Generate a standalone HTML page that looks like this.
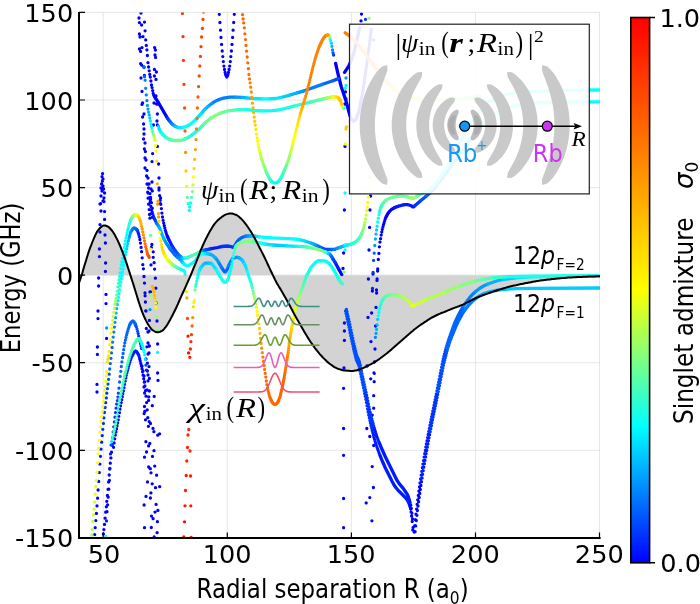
<!DOCTYPE html>
<html><head><meta charset="utf-8"><title>Potential energy curves</title>
<style>html,body{margin:0;padding:0;background:#fff}svg{display:block}</style></head>
<body>
<svg width="700" height="604" viewBox="0 0 700 604">
<defs>
<linearGradient id="cb" x1="0" y1="1" x2="0" y2="0"><stop offset="0" stop-color="#0000ff"/><stop offset="0.25" stop-color="#00ffff"/><stop offset="0.5" stop-color="#ffff00"/><stop offset="0.75" stop-color="#ff8000"/><stop offset="1" stop-color="#ff0000"/></linearGradient>
<clipPath id="pc"><rect x="79.0" y="12.5" width="521.0" height="525.5"/></clipPath>
</defs>
<rect width="700" height="604" fill="#fff"/>
<path d="M103.2 12.5V538.0M227.3 12.5V538.0M351.4 12.5V538.0M475.5 12.5V538.0M599.5 12.5V538.0M79.0 12.4H600.0M79.0 100.0H600.0M79.0 187.6H600.0M79.0 275.1H600.0M79.0 362.7H600.0M79.0 450.3H600.0" stroke="#dcdcdc" stroke-width="0.7" fill="none"/>
<path d="M79.0 283.0L80.0 279.9L81.0 277.2L82.0 274.3L83.0 270.5L84.0 267.0L85.0 263.8L86.0 260.6L87.0 257.3L88.0 254.0L89.0 251.0L90.0 248.2L91.0 245.6L92.0 243.0L93.0 240.5L94.0 238.1L95.0 235.9L96.0 233.7L97.0 231.8L98.0 230.4L99.0 229.1L100.0 228.0L101.0 227.1L102.0 226.3L103.0 225.6L104.0 225.4L105.0 225.5L106.0 225.8L107.0 226.2L108.0 226.7L109.0 227.4L110.0 228.3L111.0 229.5L112.0 230.7L113.0 232.0L114.0 233.6L115.0 235.3L116.0 237.2L117.0 239.1L118.0 241.1L119.0 243.3L120.0 245.6L121.0 248.1L122.0 250.6L123.0 253.2L124.0 255.9L125.0 258.7L126.0 261.6L127.0 264.6L128.0 267.7L129.0 270.8L130.0 273.9L131.0 277.1L132.0 280.2L133.0 283.3L134.0 286.4L135.0 289.7L136.0 293.0L137.0 296.3L138.0 299.6L139.0 302.7L140.0 305.7L141.0 308.6L142.0 311.4L143.0 314.0L144.0 316.3L145.0 318.5L146.0 320.6L147.0 322.5L148.0 324.2L149.0 325.7L150.0 327.2L151.0 328.6L152.0 329.7L153.0 330.4L154.0 331.0L155.0 331.6L156.0 332.0L157.0 332.2L158.0 332.2L159.0 332.0L160.0 331.7L161.0 331.3L162.0 330.8L163.0 330.2L164.0 329.2L165.0 327.9L166.0 326.6L167.0 325.2L168.0 323.6L169.0 321.8L170.0 320.0L171.0 318.1L172.0 316.2L173.0 314.3L174.0 312.3L175.0 310.3L176.0 308.2L177.0 306.0L178.0 303.8L179.0 301.5L180.0 299.2L181.0 296.9L182.0 294.7L183.0 292.5L184.0 290.3L185.0 288.1L186.0 285.8L187.0 283.6L188.0 281.4L189.0 279.1L190.0 276.8L191.0 274.5L192.0 272.1L193.0 269.7L194.0 267.2L195.0 264.8L196.0 262.3L197.0 259.9L198.0 257.3L199.0 254.8L200.0 252.2L201.0 249.7L202.0 247.3L203.0 245.0L204.0 242.8L205.0 240.7L206.0 238.6L207.0 236.7L208.0 234.8L209.0 232.9L210.0 231.1L211.0 229.4L212.0 227.7L213.0 226.1L214.0 224.6L215.0 223.4L216.0 222.2L217.0 221.1L218.0 220.1L219.0 219.2L220.0 218.3L221.0 217.6L222.0 216.8L223.0 216.1L224.0 215.4L225.0 214.9L226.0 214.4L227.0 214.1L228.0 213.9L229.0 213.6L230.0 213.5L231.0 213.5L232.0 213.6L233.0 213.8L234.0 214.1L235.0 214.5L236.0 214.8L237.0 215.3L238.0 216.0L239.0 216.8L240.0 217.7L241.0 218.6L242.0 219.6L243.0 220.6L244.0 221.8L245.0 223.1L246.0 224.4L247.0 225.8L248.0 227.2L249.0 228.7L250.0 230.2L251.0 231.8L252.0 233.5L253.0 235.3L254.0 237.0L255.0 238.8L256.0 240.7L257.0 242.6L258.0 244.6L259.0 246.5L260.0 248.5L261.0 250.4L262.0 252.4L263.0 254.3L264.0 256.3L265.0 258.4L266.0 260.4L267.0 262.6L268.0 264.7L269.0 266.9L270.0 269.1L271.0 271.3L272.0 273.3L273.0 275.4L274.0 277.5L275.0 279.6L276.0 281.5L277.0 283.4L278.0 285.1L279.0 286.8L280.0 288.4L281.0 290.0L282.0 291.7L283.0 293.4L284.0 295.2L285.0 297.0L286.0 298.8L287.0 300.6L288.0 302.4L289.0 304.3L290.0 306.1L291.0 307.9L292.0 309.8L293.0 311.7L294.0 313.6L295.0 315.4L296.0 317.3L297.0 319.1L298.0 320.8L299.0 322.6L300.0 324.3L301.0 326.1L302.0 327.8L303.0 329.5L304.0 331.2L305.0 332.9L306.0 334.6L307.0 336.2L308.0 337.9L309.0 339.5L310.0 341.0L311.0 342.5L312.0 343.9L313.0 345.4L314.0 346.7L315.0 348.1L316.0 349.4L317.0 350.7L318.0 351.9L319.0 353.1L320.0 354.3L321.0 355.4L322.0 356.5L323.0 357.6L324.0 358.6L325.0 359.6L326.0 360.5L327.0 361.5L328.0 362.4L329.0 363.2L330.0 364.0L331.0 364.7L332.0 365.4L333.0 366.1L334.0 366.8L335.0 367.4L336.0 367.9L337.0 368.4L338.0 368.8L339.0 369.1L340.0 369.4L341.0 369.7L342.0 370.0L343.0 370.2L344.0 370.4L345.0 370.5L346.0 370.6L347.0 370.7L348.0 370.7L349.0 370.8L350.0 370.9L351.0 370.9L352.0 370.9L353.0 370.9L354.0 370.8L355.0 370.6L356.0 370.4L357.0 370.2L358.0 369.9L359.0 369.7L360.0 369.3L361.0 368.9L362.0 368.5L363.0 368.1L364.0 367.6L365.0 367.2L366.0 366.7L367.0 366.2L368.0 365.8L369.0 365.2L370.0 364.7L371.0 364.2L372.0 363.6L373.0 363.1L374.0 362.5L375.0 361.9L376.0 361.2L377.0 360.6L378.0 359.9L379.0 359.2L380.0 358.5L381.0 357.7L382.0 357.0L383.0 356.3L384.0 355.5L385.0 354.7L386.0 354.0L387.0 353.2L388.0 352.4L389.0 351.6L390.0 350.7L391.0 349.9L392.0 349.0L393.0 348.1L394.0 347.2L395.0 346.3L396.0 345.4L397.0 344.5L398.0 343.7L399.0 342.8L400.0 341.9L401.0 341.0L402.0 340.2L403.0 339.3L404.0 338.4L405.0 337.6L406.0 336.7L407.0 335.8L408.0 334.9L409.0 334.1L410.0 333.2L411.0 332.3L412.0 331.5L413.0 330.7L414.0 329.8L415.0 329.0L416.0 328.2L417.0 327.5L418.0 326.7L419.0 326.0L420.0 325.3L421.0 324.6L422.0 323.9L423.0 323.3L424.0 322.6L425.0 321.9L426.0 321.3L427.0 320.6L428.0 319.9L429.0 319.3L430.0 318.7L431.0 318.1L432.0 317.5L433.0 317.0L434.0 316.5L435.0 316.0L436.0 315.5L437.0 315.0L438.0 314.5L439.0 314.1L440.0 313.7L441.0 313.2L442.0 312.8L443.0 312.5L444.0 312.1L445.0 311.7L446.0 311.3L447.0 310.8L448.0 310.4L449.0 310.0L450.0 309.6L451.0 309.2L452.0 308.8L453.0 308.4L454.0 308.0L455.0 307.6L456.0 307.2L457.0 306.9L458.0 306.5L459.0 306.2L460.0 305.8L461.0 305.4L462.0 305.0L463.0 304.6L464.0 304.1L465.0 303.6L466.0 303.1L467.0 302.6L468.0 302.0L469.0 301.5L470.0 301.0L471.0 300.4L472.0 299.9L473.0 299.4L474.0 298.9L475.0 298.5L476.0 298.0L477.0 297.6L478.0 297.2L479.0 296.8L480.0 296.4L481.0 296.0L482.0 295.6L483.0 295.2L484.0 294.8L485.0 294.5L486.0 294.1L487.0 293.7L488.0 293.4L489.0 293.0L490.0 292.7L491.0 292.3L492.0 292.0L493.0 291.6L494.0 291.3L495.0 291.0L496.0 290.7L497.0 290.3L498.0 290.0L499.0 289.7L500.0 289.4L501.0 289.1L502.0 288.8L503.0 288.5L504.0 288.2L505.0 287.9L506.0 287.6L507.0 287.3L508.0 287.1L509.0 286.8L510.0 286.5L511.0 286.3L512.0 286.1L513.0 285.8L514.0 285.6L515.0 285.4L516.0 285.2L517.0 284.9L518.0 284.7L519.0 284.5L520.0 284.3L521.0 284.1L522.0 283.9L523.0 283.7L524.0 283.5L525.0 283.3L526.0 283.1L527.0 282.9L528.0 282.7L529.0 282.5L530.0 282.4L531.0 282.2L532.0 282.0L533.0 281.8L534.0 281.6L535.0 281.5L536.0 281.3L537.0 281.1L538.0 280.9L539.0 280.8L540.0 280.6L541.0 280.5L542.0 280.3L543.0 280.2L544.0 280.1L545.0 279.9L546.0 279.8L547.0 279.7L548.0 279.6L549.0 279.5L550.0 279.4L551.0 279.2L552.0 279.1L553.0 279.0L554.0 278.9L555.0 278.8L556.0 278.7L557.0 278.6L558.0 278.5L559.0 278.4L560.0 278.3L561.0 278.2L562.0 278.1L563.0 278.0L564.0 277.9L565.0 277.9L566.0 277.8L567.0 277.7L568.0 277.6L569.0 277.6L570.0 277.5L571.0 277.4L572.0 277.4L573.0 277.3L574.0 277.3L575.0 277.2L576.0 277.2L577.0 277.1L578.0 277.1L579.0 277.0L580.0 277.0L581.0 276.9L582.0 276.9L583.0 276.8L584.0 276.8L585.0 276.7L586.0 276.7L587.0 276.7L588.0 276.6L589.0 276.6L590.0 276.5L591.0 276.5L592.0 276.5L593.0 276.4L594.0 276.4L595.0 276.4L596.0 276.3L597.0 276.3L598.0 276.3L599.0 276.2L600.0 276.2L600 275.2L79 275.2Z" fill="#d3d3d3" stroke="none"/>
<g clip-path="url(#pc)" fill="none" stroke-linecap="round" stroke-linejoin="round" stroke-width="3.3">
<path stroke="#0000ff" d="M144.5 22.1h0M145.1 30.8h0M145.7 39.9h0M146.3 45.4h0M146.9 49.9h0M147.4 55.5h0M148.0 62.7h0M148.6 67.0h0M149.2 70.8h0M149.8 74.4h0M150.3 77.1h0M150.9 81.0h0M151.5 85.0h0M152.1 87.6h0M152.7 90.6h0M153.2 93.5h0M153.8 95.1L155.0 97.5L158.5 102.7L166.3 116.3M219.3 14.3h0M234.3 14.3h0M219.9 22.5h0M233.7 22.5h0M220.5 30.2h0M233.1 30.2h0M221.0 37.4h0M232.6 37.4h0M221.6 44.4h0M232.0 44.4h0M222.2 51.0h0M231.4 51.0h0M222.8 56.6h0M230.8 56.6h0M223.3 61.6h0M230.3 61.6h0M223.9 66.1h0M229.7 66.1h0M224.5 69.5h0M229.1 69.5h0M225.1 72.3h0M228.5 72.3h0M225.6 74.5h0M228.0 74.5h0M226.2 76.0h0M227.4 76.0h0M226.8 77.0h0M226.8 77.0h0M335.6 63.4L338.0 73.8L341.2 86.5L346.1 101.3L349.9 115.5L351.0 118.5L351.9 119.9L353.3 120.9L353.9 121.0L354.5 120.8L355.9 119.1L356.8 117.4L358.3 113.1L359.1 109.8L362.0 95.8M362.3 94.2h0M362.6 92.5h0M362.9 90.8h0M363.2 89.0h0M363.5 87.2h0M363.8 85.4h0M364.1 83.5h0M364.4 81.6h0M364.6 79.6h0M364.9 77.6h0M365.2 75.6h0M365.5 73.5h0M365.8 71.4h0M366.1 69.3h0M366.4 67.1h0M366.7 65.0h0M367.0 62.8h0M367.3 60.6h0M367.5 58.4h0M367.8 56.2h0M368.1 54.0h0M368.4 51.9h0M368.7 49.7h0M369.0 47.6h0M369.3 45.4h0M369.6 43.2h0M369.9 41.0h0M370.2 38.7h0M370.4 36.4h0M370.7 34.1h0M371.0 31.7h0M371.3 29.3h0M344.6 72.3L349.0 65.7L350.7 61.7L352.5 56.9L354.2 51.3L355.7 45.7L359.7 27.4M345.5 91.8h0M159.0 190.0h0M159.6 195.6h0M160.2 200.3h0M160.8 204.3h0M161.4 208.6h0M161.9 213.1h0M162.5 217.0h0M163.1 220.3h0M163.7 223.1h0M164.3 225.7h0M164.8 228.1h0M165.4 230.4h0M166.0 232.4h0M166.6 234.3h0M167.2 235.8L168.6 239.2M373.1 63.1h0M373.6 39.8h0M157.0 104.0h0M157.4 114.0h0M157.4 125.0h0M157.4 146.4h0M158.6 164.0h0M159.0 178.0h0M150.3 201.0h0M150.9 206.5h0M151.5 209.7h0M152.1 212.0h0M338.8 269.2L341.7 274.5M343.0 268.4h0M343.6 253.0h0M344.4 210.0h0M376.5 290.0h0M377.1 278.9h0M377.7 269.0h0M378.3 259.4h0M378.9 253.4h0M379.4 246.8h0M380.0 242.1h0M380.6 238.7h0M381.2 235.1h0M381.8 232.0h0M382.3 229.3h0M382.9 226.9h0M383.5 224.7h0M384.1 222.7h0M384.7 220.8h0M385.2 219.0h0M385.8 217.4L387.6 214.0L389.3 211.6L391.6 209.4L394.2 207.8M410.8 505.2h0M411.3 508.5h0M411.9 513.1h0M412.5 518.9h0M413.1 527.4h0M409.3 504.5h0M409.9 506.4h0M410.5 508.8h0M411.1 511.9h0M411.6 516.0h0M412.2 521.5h0M412.8 529.9h0M414.2 532.0h0M414.8 525.6h0M415.4 519.7h0M416.0 514.2h0M416.6 509.1h0M417.1 504.3h0M417.7 499.8h0M418.3 495.4h0M418.9 491.1h0M419.5 487.0h0M415.1 531.7h0M415.7 525.9h0M416.3 520.5h0M416.9 515.3h0M417.4 510.5h0M418.0 506.0h0M418.6 501.7h0M419.2 497.5h0M419.8 493.4h0M420.3 489.4h0M420.9 485.5h0M94.7 534.6h0M95.2 527.7h0M95.8 520.6h0M96.4 513.4h0M97.0 505.9h0M97.6 498.2h0M98.1 490.0h0M98.7 481.4h0M99.3 472.6h0M139.9 239.5h0M140.5 243.1h0M141.1 247.4h0M141.6 251.7h0M142.2 257.8h0M142.8 264.7h0M143.4 268.8h0M144.0 276.5h0M144.5 283.1h0M145.1 295.8h0M145.7 310.8h0M146.3 328.5h0M146.9 346.8h0M147.4 363.2h0M148.0 380.9h0M148.6 400.4h0M149.2 421.6h0M149.8 443.4h0M150.3 468.7h0M150.9 492.9h0M151.5 516.1h0M103.4 534.0h0M103.9 529.6h0M104.5 524.4h0M105.1 518.2h0M105.7 512.2h0M106.3 506.8h0M106.8 501.3h0M107.4 495.5h0M108.0 489.3h0M108.6 482.0h0M109.2 475.0h0M109.7 469.0h0M110.3 463.2h0M110.9 457.9h0M111.5 452.2h0M112.1 445.0h0M107.0 511.7h0M107.6 504.8h0M108.2 497.2h0M108.8 489.2h0M109.4 480.4h0M113.6 447.3h0M114.1 442.9h0M114.7 438.8h0M115.3 435.1h0M115.9 431.9h0M116.5 428.9h0M117.0 426.0h0M117.6 423.0h0M118.2 419.8h0M118.8 416.3h0M119.4 412.7h0M119.9 409.2h0M120.5 405.8h0M121.1 402.7h0M121.7 399.7h0M139.7 358.7h0M140.2 361.0h0M140.8 363.4h0M141.4 366.0h0M142.0 368.8h0M142.6 371.8h0M143.1 375.2h0M143.7 378.8h0M144.3 382.2h0M144.9 386.0h0M145.5 390.6h0M146.0 396.2h0M146.6 402.6h0M147.2 409.8h0M147.8 417.7h0M148.4 426.3h0M141.0 13.0h0M139.0 18.0h0M139.4 22.6h0M141.6 25.0h0M139.4 34.0h0M140.0 37.0h0M143.0 36.6h0M142.0 47.6h0M139.4 49.0h0M140.6 51.4h0M140.6 63.6h0M141.6 65.0h0M144.0 67.0h0M141.0 78.0h0M144.4 75.4h0M142.0 91.4h0M142.6 103.0h0M142.0 104.4h0M154.6 47.6h0M155.4 50.0h0M155.0 55.0h0M155.6 57.4h0M154.4 69.4h0M156.4 72.0h0M154.4 76.0h0M156.0 79.4h0M156.0 96.0h0M154.0 103.0h0M156.6 104.0h0M142.6 103.0h0M144.0 114.0h0M142.6 117.0h0M143.6 124.0h0M144.0 129.0h0M144.0 134.0h0M143.6 139.0h0M145.0 143.0h0M144.4 149.0h0M145.4 151.6h0M145.0 158.0h0M146.0 160.0h0M145.0 168.0h0M147.0 170.4h0M146.6 176.0h0M148.0 178.0h0M147.0 184.0h0M149.0 184.0h0M152.0 182.0h0M148.6 188.0h0M151.0 189.0h0M148.0 193.0h0M150.0 193.6h0M149.0 198.0h0M150.6 199.0h0M150.0 203.0h0M157.0 104.0h0M157.4 114.0h0M157.0 121.0h0M153.4 125.0h0M157.4 125.0h0M157.4 146.4h0M152.6 153.6h0M152.0 161.6h0M158.6 164.0h0M159.0 178.0h0M159.0 188.0h0M160.6 198.0h0M160.4 203.6h0M102.6 173.6h0M102.0 176.6h0M103.0 179.0h0M102.4 181.0h0M101.6 184.0h0M103.0 186.0h0M101.0 188.0h0M103.6 189.0h0M102.0 191.0h0M104.6 193.0h0M101.0 196.0h0M104.0 198.0h0M103.0 201.0h0M100.6 203.6h0M101.0 196.0h0M104.0 201.6h0M100.0 204.0h0M101.0 211.0h0M104.6 211.6h0M104.6 219.4h0M100.0 224.6h0M100.0 232.0h0M105.0 235.0h0M105.4 243.0h0M99.4 249.0h0M99.4 256.6h0M105.6 263.0h0M105.4 271.4h0M98.6 278.0h0M98.6 286.0h0M106.0 294.4h0M98.0 311.0h0M98.0 318.6h0M97.4 347.0h0M97.4 354.4h0M97.0 384.4h0M97.0 392.0h0M106.0 294.4h0M106.0 303.6h0M106.6 338.4h0M148.0 343.0h0M149.4 346.0h0M148.0 354.0h0M149.0 353.0h0M146.0 359.0h0M142.0 366.0h0M149.0 366.6h0M143.0 371.0h0M147.4 371.0h0M144.0 376.0h0M148.0 375.0h0M149.4 378.4h0M144.6 382.0h0M144.0 387.0h0M147.0 390.0h0M149.4 391.0h0M144.6 393.0h0M145.0 293.0h0M150.0 292.0h0M145.4 302.0h0M156.0 303.0h0M146.0 311.0h0M149.4 320.4h0M157.0 321.0h0M148.0 332.0h0M149.0 331.0h0M157.6 344.0h0M157.6 373.0h0M158.0 380.4h0M343.6 388.3h0M343.6 428.5h0M343.6 455.3h0M343.6 498.5h0M343.6 527.7h0M374.2 373.4h0M370.7 378.8h0M374.2 381.7h0M373.7 395.7h0M373.7 408.2h0M372.2 415.1h0M366.8 428.5h0M373.4 429.1h0M369.8 436.5h0M373.7 445.5h0M372.2 466.6h0M373.4 487.5h0M369.8 497.6h0M366.2 502.9h0M371.9 520.8h0M344.4 323.0h0M344.4 331.0h0M344.4 340.4h0M344.0 368.0h0M377.6 271.0h0M373.0 274.0h0M368.4 279.0h0M377.0 280.4h0M372.4 291.0h0M376.6 293.0h0M376.0 307.4h0M371.6 313.0h0M368.0 317.4h0M375.6 326.0h0M371.0 341.6h0M375.0 349.0h0M374.4 362.0h0M367.0 366.0h0M374.0 373.0h0M344.4 210.0h0M343.6 253.0h0M343.0 268.4h0M370.6 196.0h0M370.0 210.0h0M369.6 227.4h0M369.0 250.0h0M368.4 279.0h0M361.5 14.0h0M361.0 20.9h0M345.0 146.2h0M345.0 104.0h0M346.0 99.0h0M345.0 146.4h0M148.8 396.9h0M154.2 396.4h0M152.3 405.7h0M144.5 406.5h0M144.1 413.6h0M144.7 411.5h0M150.5 423.5h0M145.5 419.8h0M153.9 431.7h0M153.0 428.4h0M159.6 433.8h0M157.7 435.2h0M145.9 441.7h0M148.6 445.9h0M146.5 452.0h0M154.0 450.7h0M152.5 456.4h0M144.5 457.2h0M154.7 466.1h0M148.7 467.0h0M151.0 472.8h0M156.6 475.2h0M147.5 481.9h0M152.2 483.8h0M155.5 487.7h0M159.7 486.7h0M150.4 498.0h0M146.0 496.4h0M144.1 505.0h0M156.1 504.4h0M157.9 510.4h0M155.0 512.1h0M153.1 518.7h0M157.4 521.7h0M151.3 527.5h0M144.5 527.7h0M154.2 537.0h0M157.1 532.7h0M147.7 192.2h0M152.3 190.9h0M150.5 197.3h0M148.1 198.2h0M148.6 204.2h0M151.4 202.7h0M152.3 208.2h0M149.2 209.6h0M151.7 213.3h0M149.5 214.5h0M152.3 217.3h0M149.9 218.2h0M151.9 244.5h0M151.4 247.3h0M153.2 251.8h0M153.2 257.3h0M154.1 262.7h0M151.0 264.9h0M154.6 269.1h0M155.4 278.2h0M155.9 288.2h0M150.5 291.8h0"/>
<path stroke="#001aff" d="M166.6 116.7L167.4 118.1M168.9 239.8L172.1 245.9M210.1 248.9L217.6 247.5L221.4 246.6M372.5 84.6h0M152.7 214.0h0M153.2 215.7h0M153.8 217.3h0M335.4 262.9L338.5 268.7M372.5 288.5h0M394.5 207.6L398.6 206.1L402.6 205.0L405.0 204.6L407.3 204.7L409.6 205.2L411.3 205.8L412.5 206.8L413.1 207.0L413.7 206.8L414.5 206.0M374.2 427.7h0M374.8 429.7h0M375.4 431.7h0M376.0 433.6h0M376.5 435.4h0M377.1 437.2h0M377.7 438.8h0M378.3 440.4h0M378.9 441.9L381.2 447.5L385.2 456.5L396.8 480.0L399.2 483.6L403.2 488.4L405.5 491.7L407.3 494.4L408.4 496.9M409.0 498.4h0M409.6 500.2h0M410.2 502.5h0M372.2 430.4h0M372.8 432.8h0M373.4 435.1h0M373.9 437.3h0M374.5 439.3h0M375.1 441.3h0M375.7 443.2h0M376.2 445.0h0M376.8 446.7h0M377.4 448.4h0M378.0 450.0h0M378.6 451.6h0M379.1 453.1h0M379.7 454.7L382.6 461.8L385.5 468.2L391.9 481.0L394.2 485.2L396.0 487.8L397.7 489.8L405.8 498.0L407.6 500.4L408.7 502.9M420.0 482.9h0M420.6 479.0h0M421.2 475.1h0M421.8 471.4h0M422.4 467.7h0M422.9 464.1h0M423.5 460.6h0M424.1 457.1h0M424.7 453.7h0M425.3 450.4h0M425.8 447.1h0M426.4 443.9h0M427.0 440.7h0M427.6 437.6h0M428.2 434.5h0M421.5 481.7h0M422.1 478.0h0M422.6 474.3h0M423.2 470.7h0M423.8 467.2h0M424.4 463.7h0M425.0 460.3h0M425.6 456.9h0M426.1 453.6h0M426.7 450.4h0M427.3 447.2h0M427.9 444.0h0M428.4 440.8h0M429.0 437.8h0M429.6 434.7h0M99.9 464.1h0M100.5 456.3h0M101.0 449.1h0M101.6 442.2h0M102.2 435.6h0M138.2 232.7h0M138.7 234.4h0M139.3 236.7h0M112.6 437.6h0M113.2 431.9h0M113.8 426.8h0M140.5 343.5h0M141.1 346.0h0M141.6 348.4h0M106.5 520.9h0M109.9 468.4h0M110.5 453.9h0M146.5 370.1h0M122.3 396.7h0M122.8 393.8h0M123.4 390.9h0M124.0 387.7h0M124.6 384.3h0M125.2 381.1h0M125.8 378.1h0M126.3 375.2h0M126.9 372.7h0M127.5 370.4h0M128.1 368.2h0M128.6 366.2h0M129.2 364.2h0M129.8 362.2h0M130.4 360.3h0M131.0 358.5h0M131.5 357.0L133.9 352.5L135.0 351.2L135.6 351.0L136.2 351.2L136.8 351.8L138.5 354.8M139.1 356.4h0"/>
<path stroke="#0033ff" d="M167.7 118.6L168.6 119.8M333.6 55.0h0M172.4 246.4L175.0 250.4M206.0 249.8L209.8 249.0M221.7 246.5L227.5 246.0L229.8 246.3L233.3 247.4L233.9 247.3L234.1 246.8M324.3 249.1L325.5 249.4L327.5 249.4M371.9 106.5h0M154.4 218.7L155.3 220.5M333.0 259.1L335.1 262.4M373.1 272.5h0M414.8 205.7L420.3 201.0M366.1 392.4h0M366.7 395.1h0M367.3 398.0h0M367.8 400.9h0M368.4 403.9h0M369.0 406.8h0M369.6 409.6h0M370.2 412.2h0M370.7 414.6h0M371.3 416.9h0M371.9 419.1h0M372.5 421.3h0M373.1 423.5h0M373.6 425.6h0M364.6 393.4h0M365.2 396.3h0M365.8 399.3h0M366.4 402.4h0M367.0 405.7h0M367.6 408.9h0M368.1 412.0h0M368.7 414.9h0M369.3 417.7h0M369.9 420.4h0M370.4 423.0h0M371.0 425.5h0M371.6 428.0h0M428.7 431.4h0M429.3 428.4h0M429.9 425.4h0M430.5 422.4h0M431.1 419.5h0M431.6 416.7h0M432.2 413.8h0M432.8 411.0h0M433.4 408.2h0M434.0 405.3h0M434.5 402.5h0M435.1 399.6h0M435.7 396.7h0M436.3 393.8h0M430.2 431.7h0M430.8 428.7h0M431.4 425.7h0M431.9 422.8h0M432.5 419.9h0M433.1 417.1h0M433.7 414.3h0M434.2 411.5h0M434.8 408.8h0M435.4 406.0h0M436.0 403.2h0M436.6 400.3h0M437.1 397.5h0M437.7 394.5h0M102.8 429.3h0M103.4 423.4h0M103.9 417.8h0M104.5 412.5h0M105.1 407.5h0M105.7 402.7h0M106.3 397.9h0M106.8 393.2h0M137.0 229.9L137.6 231.1M114.4 422.0h0M115.0 417.2h0M115.5 412.6h0M116.1 408.2h0M116.7 404.1h0M138.2 333.6h0M138.7 336.1h0M139.3 338.7h0M139.9 341.1h0M365.5 19.4h0"/>
<path stroke="#004cff" d="M168.9 120.2L169.8 121.3M333.0 80.7L338.3 78.6M333.0 52.8h0M175.3 250.8L177.9 254.0M203.7 250.3L205.7 249.9M234.4 246.4L236.8 242.3L238.8 239.9M320.9 247.5L324.0 249.0M327.8 249.4L331.0 249.5M371.3 125.1h0M155.6 221.1L156.4 222.8M331.9 257.1L332.8 258.6M373.6 260.4h0M420.6 200.8L426.1 196.3M346.4 309.4h0M347.0 311.7h0M347.5 314.1h0M348.1 316.5h0M348.7 319.1h0M349.3 321.8h0M349.9 324.6h0M350.4 327.4h0M351.0 330.1h0M351.6 332.8h0M352.2 335.6h0M352.8 338.4h0M353.3 341.1h0M353.9 343.7h0M354.5 346.2h0M355.1 348.7h0M355.7 351.1h0M356.2 353.4h0M356.8 355.4h0M357.4 357.1L359.1 361.2M359.7 362.9h0M360.3 365.2h0M360.9 367.9h0M361.5 370.8h0M362.0 373.7h0M362.6 376.4h0M363.2 379.0h0M363.8 381.7h0M364.4 384.3h0M364.9 387.0h0M365.5 389.7h0M345.5 311.0h0M346.1 313.6h0M346.7 316.2h0M347.2 318.9h0M347.8 321.7h0M348.4 324.5h0M349.0 327.3h0M349.6 330.1h0M350.1 332.9h0M350.7 335.7h0M351.3 338.4h0M351.9 341.2h0M352.5 343.8h0M353.1 346.4h0M353.6 349.0h0M354.2 351.5h0M354.8 353.9h0M355.4 356.2h0M355.9 358.2h0M356.5 359.9L357.7 362.7M358.3 364.2h0M358.9 366.1h0M359.4 368.5h0M360.0 371.2h0M360.6 374.1h0M361.2 376.9h0M361.8 379.6h0M362.3 382.3h0M362.9 385.0h0M363.5 387.8h0M364.1 390.6h0M436.9 390.8h0M437.4 387.9h0M438.0 384.9h0M438.6 382.0h0M439.2 379.1h0M439.8 376.1h0M440.3 373.2h0M440.9 370.3h0M441.5 367.3h0M442.1 364.4h0M442.7 361.5h0M443.2 359.0h0M443.8 356.5h0M444.4 354.1h0M445.0 351.9h0M445.6 349.7h0M438.3 391.6h0M438.9 388.6h0M439.5 385.7h0M440.1 382.7h0M440.6 379.7h0M441.2 376.8h0M441.8 373.9h0M442.4 371.1h0M442.9 368.2h0M443.5 365.3h0M444.1 362.6h0M444.7 360.0h0M445.3 357.7h0M445.9 355.4h0M446.4 353.2h0M447.0 351.0h0M107.4 388.7h0M108.0 384.1h0M108.6 379.3h0M109.2 374.2h0M135.3 228.4L136.7 229.6M117.3 400.6h0M117.9 397.1h0M118.4 393.2h0M119.0 388.2h0M135.3 324.3L135.8 325.6M136.4 327.1h0M137.0 329.1h0M137.6 331.3h0M111.1 445.1h0M145.9 365.1h0"/>
<path stroke="#0066ff" d="M170.1 121.7L171.5 123.4M322.6 84.3L332.8 80.8M144.0 67.5h0M144.5 76.7h0M178.2 254.3L180.2 256.3M202.5 250.7L203.4 250.4M239.1 239.6L241.4 237.7L245.2 236.2M318.0 246.1L320.6 247.4M331.3 249.5L334.5 249.3M156.7 223.3h0M170.1 248.9L174.7 254.7L177.3 257.1M221.7 267.6L224.0 271.2L224.6 271.8L225.2 272.0L226.3 270.8L227.5 268.7M228.1 267.1h0M330.7 255.3L331.6 256.6M374.2 253.2h0M426.4 196.1L429.9 193.1L434.2 188.5M446.1 347.6h0M446.7 345.6h0M447.3 343.7h0M447.9 341.9h0M448.5 340.1h0M449.0 338.4h0M449.6 336.8h0M450.2 335.1h0M450.8 333.5h0M451.4 331.9h0M451.9 330.3h0M452.5 328.7h0M453.1 327.1h0M453.7 325.6L455.4 321.4L457.7 316.4L460.6 310.9L463.2 306.6M447.6 349.0h0M448.2 347.1h0M448.8 345.2h0M449.3 343.4h0M449.9 341.7h0M450.5 340.1h0M451.1 338.5h0M451.6 337.0h0M452.2 335.5L455.7 326.9L458.6 320.6L462.1 314.2L465.3 309.4M109.7 369.0h0M110.3 363.6h0M110.9 358.3h0M111.5 352.9h0M112.1 347.5h0M132.9 228.7L133.5 228.1L134.1 228.0L135.0 228.3M119.6 382.0h0M120.2 376.4h0M120.8 371.3h0M121.3 366.5h0M121.9 361.9h0M122.5 357.5h0M123.1 353.5h0M123.7 349.7h0M124.2 346.1h0M124.8 342.9h0M125.4 340.1h0M126.0 337.5h0M126.6 335.1h0M127.1 332.9h0M127.7 330.9h0M128.3 329.0h0M128.9 327.2h0M129.5 325.4L130.6 323.0L131.8 321.6L132.9 321.0L133.5 321.2L134.1 321.9L135.0 323.6"/>
<path stroke="#0080ff" d="M171.8 123.7L172.7 124.5M212.4 103.1L214.7 101.6L217.6 100.1L220.5 99.0L223.4 98.1L229.8 97.2L235.3 97.1M303.5 91.0L322.3 84.4M145.1 80.2h0M145.7 88.3h0M146.3 94.9h0M146.9 100.7h0M332.5 50.0h0M180.5 256.5L181.4 257.3M202.0 250.9h0M245.5 236.2L248.1 236.0M315.6 245.0L317.7 246.0M334.8 249.2L337.4 248.2M157.3 224.3L158.2 225.6M166.6 243.7L169.8 248.5M177.6 257.3L179.6 259.1M218.8 262.6L221.4 267.1M228.6 265.6L231.0 260.9L232.4 258.9M329.6 254.1L330.4 255.0M434.5 188.1L442.9 177.4M375.4 337.3h0M463.5 306.1L466.4 301.9L470.5 296.6L472.8 294.1L475.4 291.7M465.6 309.0L468.5 305.4L471.4 302.3L473.7 300.1L476.3 298.0M112.6 342.2h0M113.2 337.1h0M113.8 332.1h0M114.4 327.1h0M131.2 231.4L132.7 229.1"/>
<path stroke="#0099ff" d="M173.0 124.7L174.4 125.8M208.3 106.2L212.1 103.3M235.6 97.2L241.7 97.4M297.1 92.9L303.2 91.1M147.4 105.4h0M148.0 109.1h0M346.0 78.0h0M181.7 257.5h0M201.4 251.1h0M248.4 236.0L250.4 236.0M313.3 244.0L315.3 244.9M337.7 248.1L340.3 247.2M370.7 143.8h0M158.5 226.1L159.3 227.6M164.3 239.5L166.3 243.3M179.9 259.4L181.4 260.8M215.3 257.8L217.0 259.9L218.5 262.1M232.7 258.7L234.4 257.8L236.2 257.3L237.3 257.2L238.8 257.7M329.0 253.7h0M374.8 245.5h0M443.2 177.0L451.6 165.7M376.0 333.3h0M475.7 291.4L478.6 289.2L481.5 287.2L484.4 285.6L487.6 284.2M476.6 297.8L480.1 295.6L483.8 293.7M115.0 322.3h0M115.5 317.7h0M129.5 236.4h0M130.0 234.4h0M130.6 232.7h0M106.6 328.0h0M150.0 309.6h0"/>
<path stroke="#00b2ff" d="M174.7 126.0L175.6 126.5M204.9 109.3L208.1 106.4M242.0 97.4L246.3 97.8M289.5 95.2L296.8 93.0M148.6 112.1h0M149.2 114.9h0M331.9 46.3h0M182.2 258.0L183.1 258.4M250.7 236.0L252.1 236.0M309.8 242.6L313.0 243.8M340.6 247.1L343.8 246.0M159.6 228.1L160.2 229.4M160.8 231.0h0M161.4 232.6h0M161.9 234.2L164.0 238.9M181.7 261.1L182.5 262.1M208.3 253.8L211.2 254.6L213.6 256.2L215.0 257.5M239.1 257.8L241.7 259.6M203.7 264.2L205.4 263.2L208.6 263.1M328.4 253.3h0M375.4 239.0h0M376.0 234.1h0M451.9 165.3L460.3 153.5M376.5 329.4h0M377.1 324.9h0M487.9 284.0L496.6 281.0L502.7 279.5M484.1 293.6L488.8 292.1L495.7 290.5L499.8 289.8L506.5 289.1M116.1 313.1h0M116.7 308.7h0M128.3 240.8h0M128.9 238.4h0"/>
<path stroke="#00ccff" d="M175.9 126.7L177.9 127.4M201.4 113.3L204.6 109.7M246.6 97.8L251.5 98.3M280.8 97.5L289.2 95.3M158.5 126.2h0M149.8 117.8h0M331.3 43.2h0M183.4 258.4h0M200.8 251.4h0M252.4 236.0L255.0 236.1M304.6 241.0L309.5 242.5M344.1 245.9L346.1 245.3M182.8 262.5h0M204.9 253.5L208.1 253.8M242.0 259.9L244.0 263.1M200.8 267.7L203.4 264.5M208.9 263.1L210.7 263.1L212.1 264.2M272.7 245.0L286.9 245.9M327.2 252.7L328.1 253.2M376.5 230.0h0M460.6 153.0L471.4 138.0M377.7 319.3h0M503.0 279.5L515.5 277.8M506.8 289.1L516.6 288.7L532.3 288.4L600.7 288.0M117.3 304.5h0M126.6 249.1h0M127.1 246.3h0M127.7 243.5h0"/>
<path stroke="#00e6ff" d="M178.2 127.5L179.9 127.8L182.5 127.5M196.2 119.2L201.1 113.7M251.8 98.4L262.6 98.9M268.1 98.9L275.6 98.5L280.5 97.6M159.0 128.5L160.5 131.6M150.3 120.7h0M184.0 258.4L184.8 258.2M200.2 251.8h0M255.3 236.2L259.1 236.8M298.8 239.6L304.3 240.9M346.4 245.3L349.0 244.7M183.4 263.3L184.3 264.4M203.1 253.6L204.6 253.5M244.3 263.6L245.5 266.0M246.0 267.5h0M246.6 269.3h0M199.6 270.1L200.5 268.2M212.4 264.5L216.2 269.6M264.6 244.0L272.4 245.0M287.2 245.9L296.2 246.3M326.7 252.4h0M377.1 226.2h0M471.7 137.6L476.3 131.4L479.8 127.2L486.2 120.6L491.1 116.2M515.7 277.8L530.0 276.8M117.9 300.8h0M125.4 254.8h0M126.0 251.9h0M111.7 441.6h0M145.3 359.3h0"/>
<path stroke="#00ffff" d="M182.8 127.5L185.7 126.7L188.6 125.3L192.1 122.9L195.9 119.4M262.9 98.9L267.8 98.9M160.8 132.1L162.8 134.6M262.9 110.8L271.6 110.7L277.6 110.2M150.9 123.7h0M151.5 126.5h0M180.5 269.2L183.4 270.4L184.0 270.9L184.6 271.8M189.6 207.0h0M189.3 210.5h0M272.1 181.8L273.3 182.6L275.0 183.0L276.8 182.6L278.2 181.5M330.7 41.0h0M346.0 85.5h0M345.2 88.4h0M344.0 108.0h0M185.1 258.2h0M199.6 252.1h0M259.4 236.8L272.7 237.9L293.0 238.8L298.5 239.5M349.3 244.6L351.3 244.0M370.2 162.2h0M184.6 264.7L186.9 265.9L188.0 265.9L188.6 265.7L193.8 262.2L195.0 261.1L196.4 259.2M202.0 253.9L202.8 253.7M247.2 271.1h0M247.8 273.0h0M248.4 275.0h0M248.9 276.8h0M311.0 267.6L312.2 266.0L314.5 263.5L316.2 261.9L317.4 261.1L319.1 260.6L324.9 261.0L326.1 261.3L327.2 262.0L330.1 264.6L331.9 267.0L334.5 271.4M197.9 275.5h0M198.5 273.4h0M199.1 271.6h0M216.5 270.1L219.6 275.6M228.6 277.4h0M229.2 275.3h0M229.8 273.2h0M230.4 271.1h0M231.0 268.8h0M231.5 266.3h0M232.1 263.4h0M261.1 243.1L264.3 243.9M296.5 246.3L299.7 246.4M326.1 252.2h0M345.0 193.0h0M345.0 250.0h0M345.0 245.0h0M377.7 222.0h0M378.3 218.2h0M427.6 190.8L429.3 189.9L431.1 188.7L434.5 185.2L438.6 179.8L445.6 169.1L449.6 162.0L459.5 142.9L468.2 127.5L473.4 119.2L479.2 111.6L483.3 106.8L486.7 103.4L489.6 101.2L497.2 97.4L500.7 95.9L504.1 94.8L509.4 93.6L519.8 92.3L533.7 91.3L553.4 90.6L577.2 90.1L601.0 90.0M491.4 115.9L494.3 113.9L498.9 111.4L503.6 109.1L507.6 107.5L511.1 106.4L514.0 105.7L524.4 104.1L534.3 103.1L543.6 102.5L572.0 102.1L601.0 101.9M378.3 315.7h0M378.9 312.4h0M530.2 276.8L557.5 276.4L601.0 276.0M120.2 272.8h0M120.8 268.6h0M121.3 265.0h0M121.9 261.7h0M122.5 258.4h0M123.1 254.8h0M123.7 251.1h0M124.2 247.6h0M124.8 244.3h0M125.4 241.1h0M126.0 238.1h0M126.6 235.3h0M127.1 232.6h0M127.7 230.1h0M118.4 297.4h0M119.0 293.6h0M121.3 278.7h0M121.9 275.5h0M122.5 272.2h0M123.1 268.9h0M123.7 265.4h0M124.2 261.7h0M124.8 258.0h0M141.3 342.6h0M141.8 344.2h0M142.4 346.0h0M143.0 348.0h0M143.6 349.9h0M144.2 352.0h0M144.7 354.8h0M157.6 352.4h0M345.0 193.0h0M345.0 193.0h0"/>
<path stroke="#1affe5" d="M163.1 134.9L165.7 137.2M188.0 137.5L190.9 135.7L197.6 130.4M243.1 109.6L247.2 109.7L254.7 110.5L262.6 110.8M277.9 110.1L286.6 108.1L293.9 106.1M178.8 268.4L180.2 269.1M185.1 274.4h0M188.0 203.6h0M190.6 203.0h0M269.8 179.1L271.8 181.6M278.5 181.2L280.3 179.0L281.1 177.6M330.1 39.1h0M185.7 258.0L187.8 257.4M351.6 243.9L354.2 242.7M196.7 258.8L200.2 254.5L201.7 253.9M249.5 278.5h0M250.1 280.2h0M250.7 281.9h0M306.9 275.1L310.7 268.0M334.8 271.9L339.1 279.9M196.2 284.2h0M196.7 281.2h0M197.3 278.2h0M219.9 276.1L222.3 280.1L223.4 281.4L224.6 282.3L225.2 282.5L225.7 282.3L226.3 281.9L227.5 280.3L228.1 279.1M232.7 259.9h0M233.3 256.4h0M257.6 242.3L260.8 243.0M300.0 246.4L303.2 246.7M325.5 251.9h0M378.9 214.7h0M379.4 212.1h0M380.0 209.9h0M423.5 192.6L427.3 190.9M379.4 309.4h0M380.0 306.9h0M380.6 304.8h0M504.7 276.8L532.0 276.1L601.0 275.6M119.0 279.9h0M119.6 276.5h0M128.3 227.8h0M128.9 225.6h0M129.5 223.6h0M130.0 221.9h0M119.6 289.7h0M120.2 285.7h0M120.8 282.0h0M139.5 339.3L141.0 342.0"/>
<path stroke="#33ffcc" d="M166.0 137.5L168.6 139.0M184.6 139.1L187.8 137.7M197.9 130.1L200.2 128.0L201.7 126.3M236.8 109.7L242.8 109.6M294.2 106.0L311.3 101.9M152.1 129.1h0M176.4 267.3L178.5 268.3M268.7 177.2L269.5 178.7M281.4 177.0L283.4 172.6M188.0 257.2L191.2 256.0M197.3 253.3L199.3 252.3M354.5 242.5L356.2 241.4L357.7 240.1M251.3 283.8h0M251.8 285.8h0M304.6 281.2h0M305.2 279.5h0M305.8 277.9L306.6 275.8M339.4 280.4L340.6 282.1L342.3 283.9M233.9 253.1h0M255.3 241.9L257.3 242.3M303.5 246.7L306.6 247.0M324.3 251.5L325.2 251.8M380.6 208.0L382.0 204.8M420.6 194.2L423.2 192.8M381.2 303.0h0M381.8 301.5L383.8 298.2M492.5 277.8L497.2 277.3L504.4 276.8M117.9 286.9h0M118.4 283.3h0M130.6 220.4L131.5 218.5M105.9 536.5h0M112.3 438.8h0M137.2 339.5L138.4 338.6L138.9 338.7L139.2 339.0"/>
<path stroke="#4dffb2" d="M168.9 139.1L172.1 140.1M181.1 140.2L182.8 139.9L184.3 139.3M202.0 126.0L204.6 123.3M229.8 110.6L236.5 109.8M311.6 101.9L318.2 100.2M152.7 131.6h0M174.7 266.2L176.2 267.1M191.6 197.4h0M266.9 173.5L268.4 176.6M283.7 171.9L285.2 168.4M191.5 255.8L197.0 253.4M358.0 239.8L360.6 236.0M252.4 288.1h0M302.9 286.3h0M303.5 284.6h0M304.0 282.9h0M195.6 286.4h0M234.4 250.3h0M235.0 248.5L235.9 246.5M252.4 241.5L255.0 241.9M306.9 247.0L309.5 247.4M323.8 251.3h0M382.3 204.3L383.5 202.6L385.5 200.6M417.7 195.8L420.3 194.3M384.1 297.9L385.2 296.8L387.3 295.6M483.3 279.3L492.2 277.9M117.3 291.1h0M131.8 217.9h0M105.3 537.4h0M112.8 436.3h0M113.4 433.9h0M114.0 431.4h0M114.6 428.9h0M115.2 426.4h0M115.7 423.7h0M116.3 420.9h0M116.9 417.8h0M117.5 414.3h0M118.1 410.7h0M118.6 407.1h0M119.2 403.8h0M119.8 400.5h0M120.4 397.4h0M121.0 394.3h0M121.5 391.3h0M122.1 388.4h0M122.7 385.5h0M123.3 382.6h0M123.9 379.6h0M124.4 376.7h0M125.0 374.2h0M125.6 371.9h0M126.2 369.6h0M126.8 367.4h0M127.3 365.1h0M127.9 362.9h0M128.5 360.7h0M129.1 358.7h0M129.7 356.8h0M130.2 355.0h0M130.8 353.3h0M131.4 351.6h0M132.0 350.1h0M132.6 348.5h0M133.1 347.0L134.9 343.2L136.9 339.9"/>
<path stroke="#66ff99" d="M172.4 140.2L174.7 140.5L178.8 140.5L180.8 140.3M204.9 123.0L207.8 120.5L210.9 118.2M220.5 113.1L224.6 111.8L229.5 110.6M318.5 100.1L323.5 98.9M153.2 133.9h0M173.5 265.4L174.4 266.0M187.4 197.4h0M265.8 170.7L266.6 172.8M285.5 167.7L286.1 166.3M286.6 164.8h0M474.0 96.9L479.8 96.0M360.9 235.4L362.0 232.7M253.0 290.8h0M301.1 291.0h0M301.7 289.5h0M302.3 287.9h0M195.0 290.0h0M236.2 245.9L236.8 245.0L238.2 243.7M250.1 241.2L252.1 241.4M309.8 247.5L313.0 248.2M319.7 249.9L323.5 251.2M385.8 200.3L387.6 199.2L390.5 198.0L393.4 197.1L396.8 196.5L399.7 196.1L402.6 196.0L407.0 196.8M416.6 196.5L417.4 195.9M387.6 295.4L388.7 295.0L391.9 294.7M473.4 281.5L483.0 279.4M116.7 294.9h0M132.4 216.9h0M157.6 331.0h0M150.5 235.5h0"/>
<path stroke="#80ff80" d="M211.2 118.0L215.9 115.2L220.2 113.2M323.8 98.8L326.4 98.2M172.4 264.4L173.2 265.2M192.4 191.6h0M264.0 166.0h0M264.6 167.6h0M265.2 169.2h0M287.2 163.2h0M287.8 161.6h0M461.8 98.5L473.7 97.0M362.6 231.1h0M363.2 229.4h0M369.6 177.2h0M253.6 293.5h0M300.0 294.3h0M300.6 292.6h0M238.5 243.5L240.2 242.6L243.1 241.9L246.6 241.3L249.8 241.2M313.3 248.2L319.4 249.8M344.0 272.0h0M407.3 196.9L411.6 198.1M414.8 197.5L416.3 196.7M392.2 294.7L395.1 294.7L397.7 295.3M458.9 286.3L466.4 283.6L473.1 281.6M116.1 298.3h0M132.9 216.2h0M150.6 295.0h0"/>
<path stroke="#99ff66" d="M326.7 98.1L328.7 97.6M153.8 135.6h0M171.2 263.4L172.1 264.2M185.7 283.1h0M262.3 160.8h0M262.9 162.6h0M263.4 164.3h0M288.4 159.9h0M289.0 158.0h0M289.5 156.1h0M329.6 36.6h0M449.0 99.4L461.5 98.5M363.8 227.3h0M364.4 225.0h0M254.2 295.9h0M254.7 298.3h0M298.8 297.6h0M299.4 295.9h0M411.9 198.2L413.1 198.4L414.5 197.7M398.0 295.4L402.4 296.9M444.4 292.3L458.6 286.4M298.5 298.0L299.1 296.7M91.8 535.2h0M115.0 304.2h0M115.5 301.3h0M133.5 215.5L134.4 214.8M156.6 317.0h0M369.1 18.3h0M151.0 295.1h0"/>
<path stroke="#b2ff4c" d="M329.0 97.6L331.0 97.2M342.9 107.3h0M154.4 137.3h0M170.1 262.3L170.9 263.1M261.1 157.1h0M261.7 159.0h0M290.1 154.1h0M290.7 152.1h0M436.3 99.9L448.8 99.4M364.9 222.3h0M365.5 219.1h0M255.3 300.8h0M297.1 302.7h0M297.7 300.9h0M298.2 299.2h0M402.6 297.1L405.5 298.7L407.6 300.2M425.8 299.9L430.5 297.8L439.2 294.5L444.1 292.5M297.4 301.4h0M297.9 299.6h0M92.3 529.7h0M92.9 521.4h0M114.4 308.2h0M134.7 214.7h0"/>
<path stroke="#ccff33" d="M331.3 97.2L332.8 97.0M155.0 139.9h0M168.3 260.4L169.8 262.0M193.0 185.0h0M260.0 152.8h0M260.5 155.1h0M291.3 150.0h0M291.9 147.7h0M425.3 99.8L429.3 100.0L436.0 99.9M366.1 215.2h0M255.9 303.8h0M295.9 306.8h0M296.5 304.6h0M407.9 300.5L410.2 302.8L411.6 305.1M414.2 305.1L419.5 303.0L425.5 300.0M295.6 308.1h0M296.2 305.7h0M296.8 303.5h0M93.5 514.8h0M94.1 509.2h0M94.7 502.2h0M113.2 316.5h0M113.8 312.4h0M135.3 214.6h0"/>
<path stroke="#e5ff1a" d="M333.0 96.9L333.9 96.8M167.2 259.0L168.0 260.1M186.6 186.4h0M258.8 147.3h0M259.4 150.2h0M292.4 145.4h0M293.0 143.0h0M415.4 98.2L420.6 99.2L425.0 99.7M366.7 210.4h0M369.0 188.7h0M256.5 307.5h0M294.8 312.7h0M295.3 309.5h0M194.4 300.4h0M411.9 305.6L412.5 306.0L413.1 305.9L413.9 305.3M294.5 314.3h0M295.1 311.1h0M95.2 494.1h0M95.8 486.5h0M96.4 480.4h0M112.1 324.6h0M112.6 320.5h0M135.8 214.7h0"/>
<path stroke="#ffff00" d="M334.2 96.8L335.6 96.8M342.3 106.0h0M155.6 145.6h0M156.1 151.1h0M159.6 232.3h0M160.2 238.3h0M165.4 256.4L166.9 258.6M193.4 177.0h0M257.6 141.1h0M258.2 144.2h0M293.6 140.6h0M294.2 138.3h0M294.8 136.0h0M295.3 133.6h0M406.7 96.0L409.6 96.9L415.1 98.1M367.3 206.9h0M367.8 202.4h0M368.4 197.1h0M257.1 311.4h0M293.6 318.8h0M294.2 315.9h0M293.9 317.3h0M97.0 472.3h0M97.6 462.7h0M98.1 454.0h0M98.7 447.8h0M99.3 440.4h0M99.9 432.5h0M100.5 426.8h0M101.0 421.6h0M101.6 416.7h0M102.2 411.9h0M102.8 406.7h0M103.4 401.3h0M103.9 395.9h0M104.5 390.7h0M105.1 386.3h0M105.7 381.2h0M106.3 376.0h0M110.3 339.8h0M110.9 333.0h0M111.5 328.4h0M136.4 214.9L137.3 215.4M155.6 303.0h0M156.0 307.6h0M345.4 144.0h0M150.5 249.1h0"/>
<path stroke="#fff200" d="M335.9 96.9h0M164.3 254.2L165.1 255.9M256.5 134.1h0M257.1 137.9h0M295.9 131.3h0M296.5 129.0h0M297.1 126.7h0M399.2 92.5L402.6 94.4L406.4 95.9M257.6 315.3h0M293.0 321.5h0M193.8 302.6h0M293.3 320.1h0M106.8 371.7h0M109.7 344.7h0M137.6 215.5h0"/>
<path stroke="#ffe600" d="M336.5 97.0L337.4 97.3M156.7 161.2h0M160.8 241.1h0M161.4 244.4h0M163.7 252.9h0M186.3 291.6h0M255.9 129.4h0M297.7 124.3h0M298.2 121.9h0M329.0 35.2h0M393.4 88.8L395.1 90.1L398.9 92.4M258.2 319.5h0M292.4 324.2h0M292.7 322.9h0M107.4 361.8h0M108.6 355.9h0M109.2 351.4h0M138.2 216.2h0"/>
<path stroke="#ffd900" d="M337.7 97.4L338.5 97.9M341.7 104.6h0M159.0 221.5h0M161.9 247.5h0M162.5 249.7h0M163.1 251.4h0M194.0 168.6h0M298.8 119.6h0M299.4 117.3h0M389.9 85.5L393.1 88.5M258.8 323.8h0M291.9 327.1h0M193.3 306.8h0M291.6 328.7h0M292.1 325.7h0M108.0 359.0h0M138.7 217.1h0"/>
<path stroke="#ffcc00" d="M338.8 98.2L339.7 99.5M340.6 101.4h0M341.2 103.1h0M186.0 171.0h0M254.7 121.3h0M255.3 125.1h0M300.0 115.1h0M386.4 81.6L389.6 85.1M259.4 328.5h0M291.3 330.4h0M291.0 332.1h0M139.3 218.4h0M155.0 298.0h0M346.2 127.5h0M346.6 127.0h0M346.0 129.0h0"/>
<path stroke="#ffc000" d="M340.0 100.0h0M194.6 159.4h0M254.2 117.2h0M300.6 113.0h0M301.1 111.1h0M382.3 76.9L386.1 81.3M290.7 333.8h0M290.4 335.6h0M139.9 219.8h0M154.6 295.5h0"/>
<path stroke="#ffb300" d="M157.3 183.8h0M253.0 107.9h0M253.6 112.5h0M301.7 109.2h0M302.3 107.3h0M328.4 34.9h0M377.7 70.9L382.0 76.5M260.0 333.3h0M289.5 341.4h0M290.1 337.5h0M289.8 339.4h0M140.5 221.5h0M141.1 223.8h0M154.0 292.0h0M152.3 286.4h0M153.2 289.1h0M154.1 291.8h0"/>
<path stroke="#ffa600" d="M157.9 201.2h0M158.5 213.6h0M186.9 297.9h0M195.4 149.6h0M252.4 103.2h0M302.9 105.4h0M327.8 34.9h0M370.7 61.5L377.4 70.6M260.5 338.3h0M289.0 345.8h0M289.2 343.5h0M141.6 226.4h0"/>
<path stroke="#ff4d00" d="M187.5 318.5h0M184.6 108.0h0M199.8 66.0h0M199.2 76.0h0M198.6 86.6h0M148.0 255.0L149.2 257.2"/>
<path stroke="#ff1a00" d="M188.0 336.2h0M189.8 357.3h0M186.2 475.5h0M190.5 476.0h0M185.5 490.5h0M185.0 505.8h0M190.8 505.8h0"/>
<path stroke="#ff0d00" d="M188.6 352.9h0M184.5 521.8h0M183.8 537.0h0M191.2 537.5h0"/>
<path stroke="#ff3300" d="M182.4 13.4h0M183.0 36.6h0M190.9 341.7h0"/>
<path stroke="#ff4000" d="M183.4 60.4h0M184.0 84.4h0M203.6 12.0h0M203.0 19.4h0M202.4 28.4h0M201.6 37.0h0M201.0 46.6h0M200.4 56.4h0M191.5 334.7h0"/>
<path stroke="#ff5a00" d="M185.0 131.0h0M198.0 97.0h0M146.9 251.4h0M147.4 253.5h0"/>
<path stroke="#ff8d00" d="M185.6 152.4h0M196.0 139.6h0M251.3 92.0h0M305.2 97.8h0M305.8 95.8h0M306.4 93.7h0M306.9 91.5h0M326.1 35.5L326.9 35.2M352.8 38.5L358.9 45.3M261.7 348.2h0M262.3 352.7h0M287.8 354.6h0M192.7 317.6h0M288.1 352.5h0M142.8 231.8h0M143.4 234.8h0M157.7 204.2h0"/>
<path stroke="#ff6600" d="M197.4 108.0h0M242.6 14.7h0M243.1 19.0h0M243.7 22.8h0M244.3 27.8h0M244.9 33.8h0M245.5 39.6h0M246.0 45.4h0M246.6 51.2h0M247.2 57.0h0M247.8 62.8h0M248.4 68.7h0M265.2 373.3h0M265.8 377.1h0M266.3 381.0h0M266.9 384.6h0M267.5 387.8h0M268.1 390.5h0M268.7 392.9h0M269.2 395.1h0M269.8 397.0h0M270.4 398.5L272.1 402.1L273.3 403.5L274.5 404.4L275.0 404.5L275.6 404.4L276.8 403.5L277.9 402.1L278.5 400.8M279.1 399.3h0M279.7 397.7h0M280.3 395.8h0M280.8 393.5h0M281.4 390.9h0M282.0 388.3h0M282.6 385.7h0M283.2 383.0h0M283.7 380.1h0M284.3 376.9h0M284.9 373.4h0M192.1 326.0h0M277.6 402.5L278.8 400.0M279.4 398.5h0M280.0 396.8h0M280.6 394.7h0M281.1 392.2h0M281.7 389.6h0M282.3 387.0h0M282.9 384.3h0M283.4 381.5h0M284.0 378.5h0M284.6 375.2h0M145.7 246.7h0M146.3 249.1h0"/>
<path stroke="#ff7300" d="M197.0 118.4h0M248.9 74.5h0M249.5 78.9h0M263.4 361.3h0M264.0 365.4h0M264.6 369.4h0M285.5 369.5h0M286.1 365.8h0M285.2 371.5h0M285.8 367.6h0M144.5 240.8h0M145.1 243.8h0"/>
<path stroke="#ff8000" d="M196.4 129.0h0M250.1 82.8h0M250.7 87.2h0M307.5 89.3h0M308.1 87.0h0M308.7 84.7h0M309.3 82.3h0M309.8 79.9h0M310.4 77.4h0M311.0 75.0h0M311.6 72.6h0M312.2 70.2h0M312.7 67.9h0M313.3 65.6h0M313.9 63.4h0M314.5 61.3h0M315.1 59.2h0M315.6 57.3h0M316.2 55.4h0M316.8 53.6h0M317.4 51.9h0M318.0 50.2h0M318.5 48.6h0M319.1 47.1L320.9 43.1L322.6 39.6L324.3 37.1L325.8 35.6M345.2 32.7L347.0 34.2L350.4 36.3L352.5 38.2M262.9 357.1h0M286.6 362.1h0M287.2 358.5h0M286.3 364.0h0M286.9 360.3h0M287.5 356.6h0M144.0 237.8h0"/>
<path stroke="#ff9900" d="M251.8 97.4h0M303.5 103.5h0M304.0 101.6h0M304.6 99.7h0M327.2 35.1h0M359.1 45.7L364.9 53.3L370.4 61.1M261.1 343.4h0M288.4 350.3h0M288.7 348.1h0M142.2 229.0h0M158.6 216.9h0"/>
<path stroke="#ff2600" d="M190.4 349.0h0M188.8 429.5h0M188.0 435.0h0M187.5 447.5h0M190.0 451.0h0M186.8 461.0h0"/>
</g>
<path d="M79.0 283.0L80.0 279.9L81.0 277.2L82.0 274.3L83.0 270.5L84.0 267.0L85.0 263.8L86.0 260.6L87.0 257.3L88.0 254.0L89.0 251.0L90.0 248.2L91.0 245.6L92.0 243.0L93.0 240.5L94.0 238.1L95.0 235.9L96.0 233.7L97.0 231.8L98.0 230.4L99.0 229.1L100.0 228.0L101.0 227.1L102.0 226.3L103.0 225.6L104.0 225.4L105.0 225.5L106.0 225.8L107.0 226.2L108.0 226.7L109.0 227.4L110.0 228.3L111.0 229.5L112.0 230.7L113.0 232.0L114.0 233.6L115.0 235.3L116.0 237.2L117.0 239.1L118.0 241.1L119.0 243.3L120.0 245.6L121.0 248.1L122.0 250.6L123.0 253.2L124.0 255.9L125.0 258.7L126.0 261.6L127.0 264.6L128.0 267.7L129.0 270.8L130.0 273.9L131.0 277.1L132.0 280.2L133.0 283.3L134.0 286.4L135.0 289.7L136.0 293.0L137.0 296.3L138.0 299.6L139.0 302.7L140.0 305.7L141.0 308.6L142.0 311.4L143.0 314.0L144.0 316.3L145.0 318.5L146.0 320.6L147.0 322.5L148.0 324.2L149.0 325.7L150.0 327.2L151.0 328.6L152.0 329.7L153.0 330.4L154.0 331.0L155.0 331.6L156.0 332.0L157.0 332.2L158.0 332.2L159.0 332.0L160.0 331.7L161.0 331.3L162.0 330.8L163.0 330.2L164.0 329.2L165.0 327.9L166.0 326.6L167.0 325.2L168.0 323.6L169.0 321.8L170.0 320.0L171.0 318.1L172.0 316.2L173.0 314.3L174.0 312.3L175.0 310.3L176.0 308.2L177.0 306.0L178.0 303.8L179.0 301.5L180.0 299.2L181.0 296.9L182.0 294.7L183.0 292.5L184.0 290.3L185.0 288.1L186.0 285.8L187.0 283.6L188.0 281.4L189.0 279.1L190.0 276.8L191.0 274.5L192.0 272.1L193.0 269.7L194.0 267.2L195.0 264.8L196.0 262.3L197.0 259.9L198.0 257.3L199.0 254.8L200.0 252.2L201.0 249.7L202.0 247.3L203.0 245.0L204.0 242.8L205.0 240.7L206.0 238.6L207.0 236.7L208.0 234.8L209.0 232.9L210.0 231.1L211.0 229.4L212.0 227.7L213.0 226.1L214.0 224.6L215.0 223.4L216.0 222.2L217.0 221.1L218.0 220.1L219.0 219.2L220.0 218.3L221.0 217.6L222.0 216.8L223.0 216.1L224.0 215.4L225.0 214.9L226.0 214.4L227.0 214.1L228.0 213.9L229.0 213.6L230.0 213.5L231.0 213.5L232.0 213.6L233.0 213.8L234.0 214.1L235.0 214.5L236.0 214.8L237.0 215.3L238.0 216.0L239.0 216.8L240.0 217.7L241.0 218.6L242.0 219.6L243.0 220.6L244.0 221.8L245.0 223.1L246.0 224.4L247.0 225.8L248.0 227.2L249.0 228.7L250.0 230.2L251.0 231.8L252.0 233.5L253.0 235.3L254.0 237.0L255.0 238.8L256.0 240.7L257.0 242.6L258.0 244.6L259.0 246.5L260.0 248.5L261.0 250.4L262.0 252.4L263.0 254.3L264.0 256.3L265.0 258.4L266.0 260.4L267.0 262.6L268.0 264.7L269.0 266.9L270.0 269.1L271.0 271.3L272.0 273.3L273.0 275.4L274.0 277.5L275.0 279.6L276.0 281.5L277.0 283.4L278.0 285.1L279.0 286.8L280.0 288.4L281.0 290.0L282.0 291.7L283.0 293.4L284.0 295.2L285.0 297.0L286.0 298.8L287.0 300.6L288.0 302.4L289.0 304.3L290.0 306.1L291.0 307.9L292.0 309.8L293.0 311.7L294.0 313.6L295.0 315.4L296.0 317.3L297.0 319.1L298.0 320.8L299.0 322.6L300.0 324.3L301.0 326.1L302.0 327.8L303.0 329.5L304.0 331.2L305.0 332.9L306.0 334.6L307.0 336.2L308.0 337.9L309.0 339.5L310.0 341.0L311.0 342.5L312.0 343.9L313.0 345.4L314.0 346.7L315.0 348.1L316.0 349.4L317.0 350.7L318.0 351.9L319.0 353.1L320.0 354.3L321.0 355.4L322.0 356.5L323.0 357.6L324.0 358.6L325.0 359.6L326.0 360.5L327.0 361.5L328.0 362.4L329.0 363.2L330.0 364.0L331.0 364.7L332.0 365.4L333.0 366.1L334.0 366.8L335.0 367.4L336.0 367.9L337.0 368.4L338.0 368.8L339.0 369.1L340.0 369.4L341.0 369.7L342.0 370.0L343.0 370.2L344.0 370.4L345.0 370.5L346.0 370.6L347.0 370.7L348.0 370.7L349.0 370.8L350.0 370.9L351.0 370.9L352.0 370.9L353.0 370.9L354.0 370.8L355.0 370.6L356.0 370.4L357.0 370.2L358.0 369.9L359.0 369.7L360.0 369.3L361.0 368.9L362.0 368.5L363.0 368.1L364.0 367.6L365.0 367.2L366.0 366.7L367.0 366.2L368.0 365.8L369.0 365.2L370.0 364.7L371.0 364.2L372.0 363.6L373.0 363.1L374.0 362.5L375.0 361.9L376.0 361.2L377.0 360.6L378.0 359.9L379.0 359.2L380.0 358.5L381.0 357.7L382.0 357.0L383.0 356.3L384.0 355.5L385.0 354.7L386.0 354.0L387.0 353.2L388.0 352.4L389.0 351.6L390.0 350.7L391.0 349.9L392.0 349.0L393.0 348.1L394.0 347.2L395.0 346.3L396.0 345.4L397.0 344.5L398.0 343.7L399.0 342.8L400.0 341.9L401.0 341.0L402.0 340.2L403.0 339.3L404.0 338.4L405.0 337.6L406.0 336.7L407.0 335.8L408.0 334.9L409.0 334.1L410.0 333.2L411.0 332.3L412.0 331.5L413.0 330.7L414.0 329.8L415.0 329.0L416.0 328.2L417.0 327.5L418.0 326.7L419.0 326.0L420.0 325.3L421.0 324.6L422.0 323.9L423.0 323.3L424.0 322.6L425.0 321.9L426.0 321.3L427.0 320.6L428.0 319.9L429.0 319.3L430.0 318.7L431.0 318.1L432.0 317.5L433.0 317.0L434.0 316.5L435.0 316.0L436.0 315.5L437.0 315.0L438.0 314.5L439.0 314.1L440.0 313.7L441.0 313.2L442.0 312.8L443.0 312.5L444.0 312.1L445.0 311.7L446.0 311.3L447.0 310.8L448.0 310.4L449.0 310.0L450.0 309.6L451.0 309.2L452.0 308.8L453.0 308.4L454.0 308.0L455.0 307.6L456.0 307.2L457.0 306.9L458.0 306.5L459.0 306.2L460.0 305.8L461.0 305.4L462.0 305.0L463.0 304.6L464.0 304.1L465.0 303.6L466.0 303.1L467.0 302.6L468.0 302.0L469.0 301.5L470.0 301.0L471.0 300.4L472.0 299.9L473.0 299.4L474.0 298.9L475.0 298.5L476.0 298.0L477.0 297.6L478.0 297.2L479.0 296.8L480.0 296.4L481.0 296.0L482.0 295.6L483.0 295.2L484.0 294.8L485.0 294.5L486.0 294.1L487.0 293.7L488.0 293.4L489.0 293.0L490.0 292.7L491.0 292.3L492.0 292.0L493.0 291.6L494.0 291.3L495.0 291.0L496.0 290.7L497.0 290.3L498.0 290.0L499.0 289.7L500.0 289.4L501.0 289.1L502.0 288.8L503.0 288.5L504.0 288.2L505.0 287.9L506.0 287.6L507.0 287.3L508.0 287.1L509.0 286.8L510.0 286.5L511.0 286.3L512.0 286.1L513.0 285.8L514.0 285.6L515.0 285.4L516.0 285.2L517.0 284.9L518.0 284.7L519.0 284.5L520.0 284.3L521.0 284.1L522.0 283.9L523.0 283.7L524.0 283.5L525.0 283.3L526.0 283.1L527.0 282.9L528.0 282.7L529.0 282.5L530.0 282.4L531.0 282.2L532.0 282.0L533.0 281.8L534.0 281.6L535.0 281.5L536.0 281.3L537.0 281.1L538.0 280.9L539.0 280.8L540.0 280.6L541.0 280.5L542.0 280.3L543.0 280.2L544.0 280.1L545.0 279.9L546.0 279.8L547.0 279.7L548.0 279.6L549.0 279.5L550.0 279.4L551.0 279.2L552.0 279.1L553.0 279.0L554.0 278.9L555.0 278.8L556.0 278.7L557.0 278.6L558.0 278.5L559.0 278.4L560.0 278.3L561.0 278.2L562.0 278.1L563.0 278.0L564.0 277.9L565.0 277.9L566.0 277.8L567.0 277.7L568.0 277.6L569.0 277.6L570.0 277.5L571.0 277.4L572.0 277.4L573.0 277.3L574.0 277.3L575.0 277.2L576.0 277.2L577.0 277.1L578.0 277.1L579.0 277.0L580.0 277.0L581.0 276.9L582.0 276.9L583.0 276.8L584.0 276.8L585.0 276.7L586.0 276.7L587.0 276.7L588.0 276.6L589.0 276.6L590.0 276.5L591.0 276.5L592.0 276.5L593.0 276.4L594.0 276.4L595.0 276.4L596.0 276.3L597.0 276.3L598.0 276.3L599.0 276.2L600.0 276.2" fill="none" stroke="#000" stroke-width="2" clip-path="url(#pc)"/>
<path d="M233.6 306.5L234.1 306.5L234.6 306.5L235.1 306.5L235.6 306.5L236.1 306.5L236.6 306.5L237.1 306.5L237.6 306.5L238.1 306.5L238.6 306.5L239.1 306.5L239.6 306.5L240.1 306.5L240.6 306.5L241.1 306.5L241.6 306.5L242.1 306.5L242.6 306.5L243.1 306.5L243.6 306.5L244.1 306.5L244.6 306.5L245.1 306.5L245.6 306.5L246.1 306.5L246.6 306.5L247.1 306.5L247.6 306.5L248.1 306.5L248.6 306.4L249.1 306.4L249.6 306.4L250.1 306.3L250.6 306.2L251.1 306.1L251.6 305.9L252.1 305.7L252.6 305.4L253.1 305.0L253.6 304.6L254.1 304.0L254.6 303.4L255.1 302.7L255.6 301.9L256.1 301.1L256.6 300.3L257.1 299.6L257.6 298.9L258.1 298.4L258.6 298.2L259.1 298.2L259.6 298.6L260.1 299.2L260.6 300.1L261.1 301.3L261.6 302.6L262.1 303.8L262.6 305.0L263.1 305.9L263.6 306.4L264.1 306.5L264.6 306.1L265.1 305.4L265.6 304.3L266.1 303.2L266.6 302.1L267.1 301.2L267.6 300.8L268.1 300.9L268.6 301.4L269.1 302.3L269.6 303.5L270.1 304.7L270.6 305.7L271.1 306.3L271.6 306.5L272.1 306.1L272.6 305.3L273.1 304.2L273.6 303.0L274.1 302.0L274.6 301.3L275.1 301.2L275.6 301.5L276.1 302.3L276.6 303.5L277.1 304.6L277.6 305.7L278.1 306.3L278.6 306.5L279.1 306.1L279.6 305.3L280.1 304.2L280.6 303.0L281.1 301.9L281.6 301.1L282.1 300.8L282.6 300.9L283.1 301.5L283.6 302.5L284.1 303.6L284.6 304.8L285.1 305.7L285.6 306.3L286.1 306.5L286.6 306.2L287.1 305.6L287.6 304.6L288.1 303.3L288.6 302.0L289.1 300.8L289.6 299.7L290.1 298.9L290.6 298.4L291.1 298.2L291.6 298.3L292.1 298.6L292.6 299.2L293.1 299.8L293.6 300.6L294.1 301.4L294.6 302.2L295.1 303.0L295.6 303.7L296.1 304.2L296.6 304.7L297.1 305.2L297.6 305.5L298.1 305.8L298.6 306.0L299.1 306.1L299.6 306.2L300.1 306.3L300.6 306.4L301.1 306.4L301.6 306.4L302.1 306.5L302.6 306.5L303.1 306.5L303.6 306.5L304.1 306.5L304.6 306.5L305.1 306.5L305.6 306.5L306.1 306.5L306.6 306.5L307.1 306.5L307.6 306.5L308.1 306.5L308.6 306.5L309.1 306.5L309.6 306.5L310.1 306.5L310.6 306.5L311.1 306.5L311.6 306.5L312.1 306.5L312.6 306.5L313.1 306.5L313.6 306.5L314.1 306.5L314.6 306.5L315.1 306.5L315.6 306.5L316.1 306.5L316.6 306.5L317.1 306.5L317.6 306.5L318.1 306.5L318.6 306.5L319.1 306.5L319.6 306.5" fill="none" stroke="#3f8f87" stroke-width="1.6" stroke-linejoin="round"/>
<path d="M233.6 324.8L234.1 324.8L234.6 324.8L235.1 324.8L235.6 324.8L236.1 324.8L236.6 324.8L237.1 324.8L237.6 324.8L238.1 324.8L238.6 324.8L239.1 324.8L239.6 324.8L240.1 324.8L240.6 324.8L241.1 324.8L241.6 324.8L242.1 324.8L242.6 324.8L243.1 324.8L243.6 324.8L244.1 324.8L244.6 324.8L245.1 324.8L245.6 324.8L246.1 324.8L246.6 324.8L247.1 324.8L247.6 324.8L248.1 324.8L248.6 324.8L249.1 324.8L249.6 324.8L250.1 324.8L250.6 324.8L251.1 324.8L251.6 324.7L252.1 324.7L252.6 324.7L253.1 324.6L253.6 324.5L254.1 324.4L254.6 324.2L255.1 323.9L255.6 323.6L256.1 323.2L256.6 322.7L257.1 322.1L257.6 321.4L258.1 320.6L258.6 319.7L259.1 318.8L259.6 317.8L260.1 316.9L260.6 316.1L261.1 315.4L261.6 315.0L262.1 315.0L262.6 315.2L263.1 315.8L263.6 316.8L264.1 318.1L264.6 319.5L265.1 321.1L265.6 322.5L266.1 323.7L266.6 324.5L267.1 324.8L267.6 324.6L268.1 323.9L268.6 322.8L269.1 321.5L269.6 320.1L270.1 319.0L270.6 318.1L271.1 317.8L271.6 318.0L272.1 318.8L272.6 320.0L273.1 321.4L273.6 322.7L274.1 323.9L274.6 324.6L275.1 324.8L275.6 324.4L276.1 323.5L276.6 322.2L277.1 320.8L277.6 319.5L278.1 318.4L278.6 317.9L279.1 317.9L279.6 318.4L280.1 319.4L280.6 320.7L281.1 322.1L281.6 323.3L282.1 324.2L282.6 324.7L283.1 324.7L283.6 324.2L284.1 323.2L284.6 321.9L285.1 320.5L285.6 318.9L286.1 317.6L286.6 316.4L287.1 315.6L287.6 315.1L288.1 315.0L288.6 315.2L289.1 315.7L289.6 316.4L290.1 317.3L290.6 318.2L291.1 319.2L291.6 320.1L292.1 320.9L292.6 321.7L293.1 322.4L293.6 322.9L294.1 323.4L294.6 323.7L295.1 324.0L295.6 324.2L296.1 324.4L296.6 324.5L297.1 324.6L297.6 324.7L298.1 324.7L298.6 324.7L299.1 324.8L299.6 324.8L300.1 324.8L300.6 324.8L301.1 324.8L301.6 324.8L302.1 324.8L302.6 324.8L303.1 324.8L303.6 324.8L304.1 324.8L304.6 324.8L305.1 324.8L305.6 324.8L306.1 324.8L306.6 324.8L307.1 324.8L307.6 324.8L308.1 324.8L308.6 324.8L309.1 324.8L309.6 324.8L310.1 324.8L310.6 324.8L311.1 324.8L311.6 324.8L312.1 324.8L312.6 324.8L313.1 324.8L313.6 324.8L314.1 324.8L314.6 324.8L315.1 324.8L315.6 324.8L316.1 324.8L316.6 324.8L317.1 324.8L317.6 324.8L318.1 324.8L318.6 324.8L319.1 324.8L319.6 324.8" fill="none" stroke="#6a8f62" stroke-width="1.6" stroke-linejoin="round"/>
<path d="M233.6 345.3L234.1 345.3L234.6 345.3L235.1 345.3L235.6 345.3L236.1 345.3L236.6 345.3L237.1 345.3L237.6 345.3L238.1 345.3L238.6 345.3L239.1 345.3L239.6 345.3L240.1 345.3L240.6 345.3L241.1 345.3L241.6 345.3L242.1 345.3L242.6 345.3L243.1 345.3L243.6 345.3L244.1 345.3L244.6 345.3L245.1 345.3L245.6 345.3L246.1 345.3L246.6 345.3L247.1 345.3L247.6 345.3L248.1 345.3L248.6 345.3L249.1 345.3L249.6 345.3L250.1 345.3L250.6 345.3L251.1 345.3L251.6 345.3L252.1 345.3L252.6 345.3L253.1 345.3L253.6 345.2L254.1 345.2L254.6 345.2L255.1 345.1L255.6 345.1L256.1 344.9L256.6 344.8L257.1 344.6L257.6 344.4L258.1 344.0L258.6 343.6L259.1 343.1L259.6 342.5L260.1 341.9L260.6 341.1L261.1 340.2L261.6 339.2L262.1 338.3L262.6 337.3L263.1 336.4L263.6 335.7L264.1 335.1L264.6 334.8L265.1 334.8L265.6 335.1L266.1 335.7L266.6 336.7L267.1 338.0L267.6 339.4L268.1 340.9L268.6 342.3L269.1 343.6L269.6 344.6L270.1 345.2L270.6 345.3L271.1 344.9L271.6 344.1L272.1 343.0L272.6 341.7L273.1 340.3L273.6 339.0L274.1 338.0L274.6 337.4L275.1 337.3L275.6 337.6L276.1 338.4L276.6 339.5L277.1 340.9L277.6 342.2L278.1 343.5L278.6 344.5L279.1 345.1L279.6 345.3L280.1 345.0L280.6 344.2L281.1 343.1L281.6 341.8L282.1 340.3L282.6 338.8L283.1 337.4L283.6 336.3L284.1 335.4L284.6 334.9L285.1 334.7L285.6 334.9L286.1 335.3L286.6 336.0L287.1 336.8L287.6 337.7L288.1 338.7L288.6 339.6L289.1 340.5L289.6 341.4L290.1 342.1L290.6 342.8L291.1 343.3L291.6 343.8L292.1 344.2L292.6 344.5L293.1 344.7L293.6 344.9L294.1 345.0L294.6 345.1L295.1 345.2L295.6 345.2L296.1 345.2L296.6 345.3L297.1 345.3L297.6 345.3L298.1 345.3L298.6 345.3L299.1 345.3L299.6 345.3L300.1 345.3L300.6 345.3L301.1 345.3L301.6 345.3L302.1 345.3L302.6 345.3L303.1 345.3L303.6 345.3L304.1 345.3L304.6 345.3L305.1 345.3L305.6 345.3L306.1 345.3L306.6 345.3L307.1 345.3L307.6 345.3L308.1 345.3L308.6 345.3L309.1 345.3L309.6 345.3L310.1 345.3L310.6 345.3L311.1 345.3L311.6 345.3L312.1 345.3L312.6 345.3L313.1 345.3L313.6 345.3L314.1 345.3L314.6 345.3L315.1 345.3L315.6 345.3L316.1 345.3L316.6 345.3L317.1 345.3L317.6 345.3L318.1 345.3L318.6 345.3L319.1 345.3L319.6 345.3" fill="none" stroke="#66a033" stroke-width="1.6" stroke-linejoin="round"/>
<path d="M233.6 367.5L234.1 367.5L234.6 367.5L235.1 367.5L235.6 367.5L236.1 367.5L236.6 367.5L237.1 367.5L237.6 367.5L238.1 367.5L238.6 367.5L239.1 367.5L239.6 367.5L240.1 367.5L240.6 367.5L241.1 367.5L241.6 367.5L242.1 367.5L242.6 367.5L243.1 367.5L243.6 367.5L244.1 367.5L244.6 367.5L245.1 367.5L245.6 367.5L246.1 367.5L246.6 367.5L247.1 367.5L247.6 367.5L248.1 367.5L248.6 367.5L249.1 367.5L249.6 367.5L250.1 367.5L250.6 367.5L251.1 367.5L251.6 367.5L252.1 367.5L252.6 367.5L253.1 367.5L253.6 367.5L254.1 367.5L254.6 367.5L255.1 367.5L255.6 367.5L256.1 367.5L256.6 367.5L257.1 367.5L257.6 367.4L258.1 367.4L258.6 367.3L259.1 367.3L259.6 367.1L260.1 367.0L260.6 366.8L261.1 366.5L261.6 366.1L262.1 365.7L262.6 365.1L263.1 364.4L263.6 363.6L264.1 362.6L264.6 361.6L265.1 360.4L265.6 359.1L266.1 357.8L266.6 356.5L267.1 355.3L267.6 354.2L268.1 353.4L268.6 353.0L269.1 352.8L269.6 353.1L270.1 353.8L270.6 355.0L271.1 356.5L271.6 358.2L272.1 360.1L272.6 362.1L273.1 363.9L273.6 365.4L274.1 366.6L274.6 367.3L275.1 367.5L275.6 367.1L276.1 366.2L276.6 364.9L277.1 363.2L277.6 361.3L278.1 359.3L278.6 357.5L279.1 355.8L279.6 354.5L280.1 353.5L280.6 353.0L281.1 352.8L281.6 353.1L282.1 353.7L282.6 354.6L283.1 355.7L283.6 357.0L284.1 358.3L284.6 359.6L285.1 360.9L285.6 362.0L286.1 363.0L286.6 364.0L287.1 364.7L287.6 365.4L288.1 365.9L288.6 366.3L289.1 366.6L289.6 366.9L290.1 367.1L290.6 367.2L291.1 367.3L291.6 367.4L292.1 367.4L292.6 367.4L293.1 367.5L293.6 367.5L294.1 367.5L294.6 367.5L295.1 367.5L295.6 367.5L296.1 367.5L296.6 367.5L297.1 367.5L297.6 367.5L298.1 367.5L298.6 367.5L299.1 367.5L299.6 367.5L300.1 367.5L300.6 367.5L301.1 367.5L301.6 367.5L302.1 367.5L302.6 367.5L303.1 367.5L303.6 367.5L304.1 367.5L304.6 367.5L305.1 367.5L305.6 367.5L306.1 367.5L306.6 367.5L307.1 367.5L307.6 367.5L308.1 367.5L308.6 367.5L309.1 367.5L309.6 367.5L310.1 367.5L310.6 367.5L311.1 367.5L311.6 367.5L312.1 367.5L312.6 367.5L313.1 367.5L313.6 367.5L314.1 367.5L314.6 367.5L315.1 367.5L315.6 367.5L316.1 367.5L316.6 367.5L317.1 367.5L317.6 367.5L318.1 367.5L318.6 367.5L319.1 367.5L319.6 367.5" fill="none" stroke="#e35fc0" stroke-width="1.6" stroke-linejoin="round"/>
<path d="M233.6 392.0L234.1 392.0L234.6 392.0L235.1 392.0L235.6 392.0L236.1 392.0L236.6 392.0L237.1 392.0L237.6 392.0L238.1 392.0L238.6 392.0L239.1 392.0L239.6 392.0L240.1 392.0L240.6 392.0L241.1 392.0L241.6 392.0L242.1 392.0L242.6 392.0L243.1 392.0L243.6 392.0L244.1 392.0L244.6 392.0L245.1 392.0L245.6 392.0L246.1 392.0L246.6 392.0L247.1 392.0L247.6 392.0L248.1 392.0L248.6 392.0L249.1 392.0L249.6 392.0L250.1 392.0L250.6 392.0L251.1 392.0L251.6 392.0L252.1 392.0L252.6 392.0L253.1 392.0L253.6 392.0L254.1 392.0L254.6 392.0L255.1 392.0L255.6 392.0L256.1 392.0L256.6 392.0L257.1 392.0L257.6 392.0L258.1 392.0L258.6 392.0L259.1 392.0L259.6 391.9L260.1 391.9L260.6 391.9L261.1 391.8L261.6 391.8L262.1 391.7L262.6 391.6L263.1 391.4L263.6 391.2L264.1 391.0L264.6 390.7L265.1 390.3L265.6 389.8L266.1 389.3L266.6 388.7L267.1 387.9L267.6 387.1L268.1 386.2L268.6 385.1L269.1 384.0L269.6 382.8L270.1 381.6L270.6 380.3L271.1 379.1L271.6 377.9L272.1 376.8L272.6 375.8L273.1 374.9L273.6 374.2L274.1 373.7L274.6 373.4L275.1 373.3L275.6 373.5L276.1 373.8L276.6 374.4L277.1 375.2L277.6 376.1L278.1 377.2L278.6 378.4L279.1 379.6L279.6 380.8L280.1 382.1L280.6 383.3L281.1 384.5L281.6 385.5L282.1 386.5L282.6 387.4L283.1 388.2L283.6 388.9L284.1 389.5L284.6 390.0L285.1 390.5L285.6 390.8L286.1 391.1L286.6 391.3L287.1 391.5L287.6 391.6L288.1 391.7L288.6 391.8L289.1 391.9L289.6 391.9L290.1 391.9L290.6 392.0L291.1 392.0L291.6 392.0L292.1 392.0L292.6 392.0L293.1 392.0L293.6 392.0L294.1 392.0L294.6 392.0L295.1 392.0L295.6 392.0L296.1 392.0L296.6 392.0L297.1 392.0L297.6 392.0L298.1 392.0L298.6 392.0L299.1 392.0L299.6 392.0L300.1 392.0L300.6 392.0L301.1 392.0L301.6 392.0L302.1 392.0L302.6 392.0L303.1 392.0L303.6 392.0L304.1 392.0L304.6 392.0L305.1 392.0L305.6 392.0L306.1 392.0L306.6 392.0L307.1 392.0L307.6 392.0L308.1 392.0L308.6 392.0L309.1 392.0L309.6 392.0L310.1 392.0L310.6 392.0L311.1 392.0L311.6 392.0L312.1 392.0L312.6 392.0L313.1 392.0L313.6 392.0L314.1 392.0L314.6 392.0L315.1 392.0L315.6 392.0L316.1 392.0L316.6 392.0L317.1 392.0L317.6 392.0L318.1 392.0L318.6 392.0L319.1 392.0L319.6 392.0" fill="none" stroke="#f0506e" stroke-width="1.6" stroke-linejoin="round"/>
<rect x="349.5" y="24.2" width="239.79999999999995" height="169.70000000000002" fill="#fff" fill-opacity="0.9" stroke="none"/>
<path d="M542.2 65.0L547.2 66.4L550.3 69.3L553.1 72.6L555.6 76.1L557.8 79.7L559.9 83.4L561.8 87.3L563.4 91.3L564.9 95.3L566.2 99.4L567.2 103.6L568.1 107.8L568.8 112.1L569.3 116.4L569.6 120.7L569.7 125.0L569.6 129.3L569.3 133.6L568.8 137.9L568.1 142.2L567.2 146.4L566.2 150.6L564.9 154.7L563.4 158.7L561.8 162.7L559.9 166.6L557.8 170.3L555.6 173.9L553.1 177.4L550.3 180.7L547.2 183.6L542.2 185.0L542.2 185.0L541.9 179.8L543.2 176.0L544.6 172.4L545.9 168.8L547.2 165.2L548.5 161.6L549.6 158.0L550.6 154.4L551.5 150.7L552.3 147.1L553.0 143.4L553.5 139.8L553.9 136.1L554.3 132.4L554.4 128.7L554.5 125.0L554.4 121.3L554.3 117.6L553.9 113.9L553.5 110.2L553.0 106.6L552.3 102.9L551.5 99.3L550.6 95.6L549.6 92.0L548.5 88.4L547.2 84.8L545.9 81.2L544.6 77.6L543.2 74.0L541.9 70.2L542.2 65.0ZM507.1 72.0L511.9 72.3L515.3 74.6L518.3 77.2L521.2 80.1L523.8 83.2L526.1 86.5L528.3 89.9L530.3 93.5L532.0 97.2L533.5 101.0L534.8 104.8L535.8 108.8L536.6 112.8L537.2 116.8L537.6 120.9L537.7 125.0L537.6 129.1L537.2 133.2L536.6 137.2L535.8 141.2L534.8 145.2L533.5 149.0L532.0 152.8L530.3 156.5L528.3 160.1L526.1 163.5L523.8 166.8L521.2 169.9L518.3 172.8L515.3 175.4L511.9 177.7L507.1 178.0L507.1 178.0L507.7 173.0L509.5 169.7L511.3 166.6L513.0 163.4L514.6 160.3L516.1 157.2L517.4 154.1L518.6 150.9L519.7 147.7L520.6 144.5L521.4 141.3L522.0 138.1L522.6 134.8L522.9 131.5L523.1 128.3L523.2 125.0L523.1 121.7L522.9 118.5L522.6 115.2L522.0 111.9L521.4 108.7L520.6 105.5L519.7 102.3L518.6 99.1L517.4 95.9L516.1 92.8L514.6 89.7L513.0 86.6L511.3 83.4L509.5 80.3L507.7 77.0L507.1 72.0ZM486.7 84.5L490.6 84.2L493.5 85.7L496.1 87.6L498.6 89.8L500.9 92.1L503.0 94.6L504.9 97.3L506.6 100.1L508.1 103.0L509.4 106.0L510.5 109.0L511.5 112.1L512.2 115.3L512.7 118.5L513.0 121.8L513.1 125.0L513.0 128.2L512.7 131.5L512.2 134.7L511.5 137.9L510.5 141.0L509.4 144.0L508.1 147.0L506.6 149.9L504.9 152.7L503.0 155.4L500.9 157.9L498.6 160.2L496.1 162.4L493.5 164.3L490.6 165.8L486.7 165.5L486.7 165.5L487.6 161.2L489.2 158.5L490.8 156.0L492.2 153.6L493.5 151.2L494.7 148.8L495.8 146.5L496.8 144.1L497.6 141.7L498.3 139.3L498.9 136.9L499.4 134.5L499.8 132.2L500.1 129.8L500.2 127.4L500.3 125.0L500.2 122.6L500.1 120.2L499.8 117.8L499.4 115.5L498.9 113.1L498.3 110.7L497.6 108.3L496.8 105.9L495.8 103.5L494.7 101.2L493.5 98.8L492.2 96.4L490.8 94.0L489.2 91.5L487.6 88.8L486.7 84.5ZM474.2 98.5L477.1 97.3L479.5 97.8L481.7 98.8L483.8 100.0L485.7 101.4L487.5 103.0L489.2 104.8L490.7 106.7L492.1 108.7L493.3 110.8L494.3 113.0L495.2 115.3L495.8 117.7L496.3 120.1L496.6 122.5L496.7 125.0L496.6 127.5L496.3 129.9L495.8 132.3L495.2 134.7L494.3 137.0L493.3 139.2L492.1 141.3L490.7 143.3L489.2 145.2L487.5 147.0L485.7 148.6L483.8 150.0L481.7 151.2L479.5 152.2L477.1 152.7L474.2 151.5L474.2 151.5L475.1 148.2L476.4 146.5L477.6 145.0L478.7 143.4L479.8 142.0L480.7 140.5L481.6 138.9L482.4 137.4L483.0 135.9L483.6 134.4L484.1 132.8L484.5 131.3L484.8 129.7L485.0 128.1L485.2 126.6L485.2 125.0L485.2 123.4L485.0 121.9L484.8 120.3L484.5 118.7L484.1 117.2L483.6 115.6L483.0 114.1L482.4 112.6L481.6 111.1L480.7 109.5L479.8 108.0L478.7 106.6L477.6 105.0L476.4 103.5L475.1 101.8L474.2 98.5ZM387.2 65.0L382.2 66.4L379.1 69.3L376.3 72.6L373.8 76.1L371.6 79.7L369.5 83.4L367.6 87.3L366.0 91.3L364.5 95.3L363.2 99.4L362.2 103.6L361.3 107.8L360.6 112.1L360.1 116.4L359.8 120.7L359.7 125.0L359.8 129.3L360.1 133.6L360.6 137.9L361.3 142.2L362.2 146.4L363.2 150.6L364.5 154.7L366.0 158.7L367.6 162.7L369.5 166.6L371.6 170.3L373.8 173.9L376.3 177.4L379.1 180.7L382.2 183.6L387.2 185.0L387.2 185.0L387.5 179.8L386.2 176.0L384.8 172.4L383.5 168.8L382.2 165.2L380.9 161.6L379.8 158.0L378.8 154.4L377.9 150.7L377.1 147.1L376.4 143.4L375.9 139.8L375.5 136.1L375.1 132.4L375.0 128.7L374.9 125.0L375.0 121.3L375.1 117.6L375.5 113.9L375.9 110.2L376.4 106.6L377.1 102.9L377.9 99.3L378.8 95.6L379.8 92.0L380.9 88.4L382.2 84.8L383.5 81.2L384.8 77.6L386.2 74.0L387.5 70.2L387.2 65.0ZM422.3 72.0L417.5 72.3L414.1 74.6L411.1 77.2L408.2 80.1L405.6 83.2L403.3 86.5L401.1 89.9L399.1 93.5L397.4 97.2L395.9 101.0L394.6 104.8L393.6 108.8L392.8 112.8L392.2 116.8L391.8 120.9L391.7 125.0L391.8 129.1L392.2 133.2L392.8 137.2L393.6 141.2L394.6 145.2L395.9 149.0L397.4 152.8L399.1 156.5L401.1 160.1L403.3 163.5L405.6 166.8L408.2 169.9L411.1 172.8L414.1 175.4L417.5 177.7L422.3 178.0L422.3 178.0L421.7 173.0L419.9 169.7L418.1 166.6L416.4 163.4L414.8 160.3L413.3 157.2L412.0 154.1L410.8 150.9L409.7 147.7L408.8 144.5L408.0 141.3L407.4 138.1L406.8 134.8L406.5 131.5L406.3 128.3L406.2 125.0L406.3 121.7L406.5 118.5L406.8 115.2L407.4 111.9L408.0 108.7L408.8 105.5L409.7 102.3L410.8 99.1L412.0 95.9L413.3 92.8L414.8 89.7L416.4 86.6L418.1 83.4L419.9 80.3L421.7 77.0L422.3 72.0ZM442.7 84.5L438.8 84.2L435.9 85.7L433.3 87.6L430.8 89.8L428.5 92.1L426.4 94.6L424.5 97.3L422.8 100.1L421.3 103.0L420.0 106.0L418.9 109.0L417.9 112.1L417.2 115.3L416.7 118.5L416.4 121.8L416.3 125.0L416.4 128.2L416.7 131.5L417.2 134.7L417.9 137.9L418.9 141.0L420.0 144.0L421.3 147.0L422.8 149.9L424.5 152.7L426.4 155.4L428.5 157.9L430.8 160.2L433.3 162.4L435.9 164.3L438.8 165.8L442.7 165.5L442.7 165.5L441.8 161.2L440.2 158.5L438.6 156.0L437.2 153.6L435.9 151.2L434.7 148.8L433.6 146.5L432.6 144.1L431.8 141.7L431.1 139.3L430.5 136.9L430.0 134.5L429.6 132.2L429.3 129.8L429.2 127.4L429.1 125.0L429.2 122.6L429.3 120.2L429.6 117.8L430.0 115.5L430.5 113.1L431.1 110.7L431.8 108.3L432.6 105.9L433.6 103.5L434.7 101.2L435.9 98.8L437.2 96.4L438.6 94.0L440.2 91.5L441.8 88.8L442.7 84.5ZM455.2 98.5L452.3 97.3L449.9 97.8L447.7 98.8L445.6 100.0L443.7 101.4L441.9 103.0L440.2 104.8L438.7 106.7L437.3 108.7L436.1 110.8L435.1 113.0L434.2 115.3L433.6 117.7L433.1 120.1L432.8 122.5L432.7 125.0L432.8 127.5L433.1 129.9L433.6 132.3L434.2 134.7L435.1 137.0L436.1 139.2L437.3 141.3L438.7 143.3L440.2 145.2L441.9 147.0L443.7 148.6L445.6 150.0L447.7 151.2L449.9 152.2L452.3 152.7L455.2 151.5L455.2 151.5L454.3 148.2L453.0 146.5L451.8 145.0L450.7 143.4L449.6 142.0L448.7 140.5L447.8 138.9L447.0 137.4L446.4 135.9L445.8 134.4L445.3 132.8L444.9 131.3L444.6 129.7L444.4 128.1L444.2 126.6L444.2 125.0L444.2 123.4L444.4 121.9L444.6 120.3L444.9 118.7L445.3 117.2L445.8 115.6L446.4 114.1L447.0 112.6L447.8 111.1L448.7 109.5L449.6 108.0L450.7 106.6L451.8 105.0L453.0 103.5L454.3 101.8L455.2 98.5Z" fill="#c9c9c9"/>
<path d="M470.7 110.5L472.4 109.6L473.7 110.0L474.8 110.6L475.9 111.3L476.9 112.2L477.8 113.1L478.6 114.1L479.4 115.2L480.0 116.3L480.6 117.5L481.1 118.7L481.5 119.9L481.8 121.2L482.0 122.4L482.2 123.7L482.2 125.0L482.2 126.3L482.0 127.6L481.8 128.8L481.5 130.1L481.1 131.3L480.6 132.5L480.0 133.7L479.4 134.8L478.6 135.9L477.8 136.9L476.9 137.8L475.9 138.7L474.8 139.4L473.7 140.0L472.4 140.4L470.7 139.5L470.7 139.5L470.8 137.1L471.2 135.9L471.7 134.9L472.0 133.9L472.4 133.1L472.6 132.2L472.9 131.4L473.1 130.6L473.2 129.8L473.4 129.1L473.5 128.4L473.6 127.7L473.6 127.0L473.7 126.3L473.7 125.7L473.7 125.0L473.7 124.3L473.7 123.7L473.6 123.0L473.6 122.3L473.5 121.6L473.4 120.9L473.2 120.2L473.1 119.4L472.9 118.6L472.6 117.8L472.4 116.9L472.0 116.1L471.7 115.1L471.2 114.1L470.8 112.9L470.7 110.5ZM458.7 110.5L457.0 109.6L455.7 110.0L454.6 110.6L453.5 111.3L452.5 112.2L451.6 113.1L450.8 114.1L450.0 115.2L449.4 116.3L448.8 117.5L448.3 118.7L447.9 119.9L447.6 121.2L447.4 122.4L447.2 123.7L447.2 125.0L447.2 126.3L447.4 127.6L447.6 128.8L447.9 130.1L448.3 131.3L448.8 132.5L449.4 133.7L450.0 134.8L450.8 135.9L451.6 136.9L452.5 137.8L453.5 138.7L454.6 139.4L455.7 140.0L457.0 140.4L458.7 139.5L458.7 139.5L458.6 137.1L458.2 135.9L457.7 134.9L457.4 133.9L457.0 133.1L456.8 132.2L456.5 131.4L456.3 130.6L456.2 129.8L456.0 129.1L455.9 128.4L455.8 127.7L455.8 127.0L455.7 126.3L455.7 125.7L455.7 125.0L455.7 124.3L455.7 123.7L455.8 123.0L455.8 122.3L455.9 121.6L456.0 120.9L456.2 120.2L456.3 119.4L456.5 118.6L456.8 117.8L457.0 116.9L457.4 116.1L457.7 115.1L458.2 114.1L458.6 112.9L458.7 110.5Z" fill="#bdbdbd"/>
<path d="M474.2 115.5L475.6 115.1L476.4 115.4L477.1 115.8L477.7 116.3L478.2 116.9L478.8 117.5L479.2 118.1L479.6 118.8L480.0 119.5L480.3 120.3L480.6 121.0L480.8 121.8L481.0 122.6L481.1 123.4L481.2 124.2L481.2 125.0L481.2 125.8L481.1 126.6L481.0 127.4L480.8 128.2L480.6 129.0L480.3 129.7L480.0 130.5L479.6 131.2L479.2 131.9L478.8 132.5L478.2 133.1L477.7 133.7L477.1 134.2L476.4 134.6L475.6 134.9L474.2 134.5L474.2 134.5L473.7 133.2L473.8 132.5L473.9 131.9L474.1 131.3L474.3 130.7L474.4 130.2L474.6 129.7L474.7 129.1L474.8 128.6L474.9 128.1L475.0 127.6L475.1 127.1L475.1 126.5L475.2 126.0L475.2 125.5L475.2 125.0L475.2 124.5L475.2 124.0L475.1 123.5L475.1 122.9L475.0 122.4L474.9 121.9L474.8 121.4L474.7 120.9L474.6 120.3L474.4 119.8L474.3 119.3L474.1 118.7L473.9 118.1L473.8 117.5L473.7 116.8L474.2 115.5ZM455.2 115.5L453.8 115.1L453.0 115.4L452.3 115.8L451.7 116.3L451.2 116.9L450.6 117.5L450.2 118.1L449.8 118.8L449.4 119.5L449.1 120.3L448.8 121.0L448.6 121.8L448.4 122.6L448.3 123.4L448.2 124.2L448.2 125.0L448.2 125.8L448.3 126.6L448.4 127.4L448.6 128.2L448.8 129.0L449.1 129.7L449.4 130.5L449.8 131.2L450.2 131.9L450.6 132.5L451.2 133.1L451.7 133.7L452.3 134.2L453.0 134.6L453.8 134.9L455.2 134.5L455.2 134.5L455.7 133.2L455.6 132.5L455.5 131.9L455.3 131.3L455.1 130.7L455.0 130.2L454.8 129.7L454.7 129.1L454.6 128.6L454.5 128.1L454.4 127.6L454.3 127.1L454.3 126.5L454.2 126.0L454.2 125.5L454.2 125.0L454.2 124.5L454.2 124.0L454.3 123.5L454.3 122.9L454.4 122.4L454.5 121.9L454.6 121.4L454.7 120.9L454.8 120.3L455.0 119.8L455.1 119.3L455.3 118.7L455.5 118.1L455.6 117.5L455.7 116.8L455.2 115.5Z" fill="#adadad"/>
<rect x="349.5" y="24.2" width="239.79999999999995" height="169.70000000000002" fill="none" stroke="#222" stroke-width="1.2"/>
<path d="M464.7 126.2H577" stroke="#000" stroke-width="1.5" fill="none"/>
<path d="M582 126.2L573.6 123.0L575.2 126.2L573.6 129.4Z" fill="#000"/>
<circle cx="464.7" cy="126.2" r="5" fill="#0f98f8" stroke="#000" stroke-width="1.2"/>
<circle cx="547.3" cy="126.2" r="5" fill="#cc33f5" stroke="#000" stroke-width="1.2"/>
<g font-family="'DejaVu Sans Condensed', 'DejaVu Sans', sans-serif" font-size="25">
<text x="446.9" y="161.6" fill="#1897f6" textLength="40.5" lengthAdjust="spacingAndGlyphs">Rb<tspan font-size="14" dy="-11.6" dx="-0.8">+</tspan></text>
<text x="532.8" y="161.6" fill="#cc33f5" textLength="29.9" lengthAdjust="spacingAndGlyphs">Rb</text>
</g>
<text x="571.6" y="145.6" font-family="'Liberation Serif', 'DejaVu Serif', serif" font-style="italic" font-size="20" fill="#000" textLength="14.2" lengthAdjust="spacingAndGlyphs">R</text>
<g font-family="'Liberation Serif', 'DejaVu Serif', serif" fill="#000">
<text x="395.6" y="53.8" font-size="29">|</text>
<text x="401.0" y="52.3" font-size="27.5" font-style="italic" textLength="17.2" lengthAdjust="spacingAndGlyphs">ψ</text>
<text x="418.8" y="55.0" font-size="18.5" textLength="16.6" lengthAdjust="spacingAndGlyphs">in</text>
<text x="441.2" y="52.3" font-size="30" textLength="7.6" lengthAdjust="spacingAndGlyphs">(</text>
<text x="449.2" y="52.3" font-size="27.5" font-style="italic" font-weight="bold" textLength="13.6" lengthAdjust="spacingAndGlyphs">r</text>
<text x="467.6" y="52.3" font-size="27.5">;</text>
<text x="477.0" y="52.3" font-size="27.5" font-style="italic" textLength="20" lengthAdjust="spacingAndGlyphs">R</text>
<text x="497.6" y="55.0" font-size="18.5" textLength="16.2" lengthAdjust="spacingAndGlyphs">in</text>
<text x="515.6" y="52.3" font-size="30" textLength="7.6" lengthAdjust="spacingAndGlyphs">)</text>
<text x="527.8" y="53.8" font-size="29">|</text>
<text x="534.0" y="42.0" font-size="16.5" textLength="9.8" lengthAdjust="spacingAndGlyphs">2</text>
<text x="201.0" y="198.6" font-size="27.5" font-style="italic" textLength="17.2" lengthAdjust="spacingAndGlyphs">ψ</text>
<text x="218.6" y="202.4" font-size="18.5" textLength="16.8" lengthAdjust="spacingAndGlyphs">in</text>
<text x="240" y="198.6" font-size="30" textLength="7.6" lengthAdjust="spacingAndGlyphs">(</text>
<text x="249.2" y="198.6" font-size="27.5" font-style="italic" textLength="19.2" lengthAdjust="spacingAndGlyphs">R</text>
<text x="269.4" y="198.6" font-size="27.5">;</text>
<text x="281.9" y="198.6" font-size="27.5" font-style="italic" textLength="19.2" lengthAdjust="spacingAndGlyphs">R</text>
<text x="301.8" y="202.4" font-size="18.5" textLength="16.8" lengthAdjust="spacingAndGlyphs">in</text>
<text x="322.2" y="198.6" font-size="30" textLength="7.6" lengthAdjust="spacingAndGlyphs">)</text>
<text x="188.8" y="416.7" font-size="27.5" font-style="italic" textLength="16" lengthAdjust="spacingAndGlyphs">χ</text>
<text x="205.8" y="419.8" font-size="18.5" textLength="16.2" lengthAdjust="spacingAndGlyphs">in</text>
<text x="226.4" y="416.7" font-size="30" textLength="7.6" lengthAdjust="spacingAndGlyphs">(</text>
<text x="236.0" y="416.7" font-size="27.5" font-style="italic" textLength="20" lengthAdjust="spacingAndGlyphs">R</text>
<text x="257.4" y="416.7" font-size="30" textLength="7.6" lengthAdjust="spacingAndGlyphs">)</text>
</g>
<g font-family="'DejaVu Sans Condensed', 'DejaVu Sans', sans-serif" font-size="25" fill="#000">
<text x="513" y="264.4" textLength="71.6" lengthAdjust="spacingAndGlyphs">12<tspan font-style="italic">p</tspan><tspan font-size="15.5" dy="5.2" dx="1.5">F=2</tspan></text>
<text x="513" y="312.4" textLength="71.6" lengthAdjust="spacingAndGlyphs">12<tspan font-style="italic">p</tspan><tspan font-size="15.5" dy="5.2" dx="1.5">F=1</tspan></text>
</g>
<path d="M79.0 11.9V538.0H600.6" stroke="#000" stroke-width="2" fill="none" stroke-linejoin="miter"/>
<path d="M103.2 538.0v-5.5M227.3 538.0v-5.5M351.4 538.0v-5.5M475.5 538.0v-5.5M599.5 538.0v-5.5M79.0 12.4h6M79.0 100.0h6M79.0 187.6h6M79.0 275.1h6M79.0 362.7h6M79.0 450.3h6M79.0 537.9h6" stroke="#000" stroke-width="1.2" fill="none"/>
<g font-family="'DejaVu Sans', sans-serif" font-size="25.6" fill="#000">
<text x="73.2" y="21.9" text-anchor="end">150</text>
<text x="73.2" y="109.5" text-anchor="end">100</text>
<text x="73.2" y="197.1" text-anchor="end">50</text>
<text x="73.2" y="284.6" text-anchor="end">0</text>
<text x="73.2" y="372.2" text-anchor="end">-50</text>
<text x="73.2" y="459.8" text-anchor="end">-100</text>
<text x="73.2" y="547.4" text-anchor="end">-150</text>
<text x="104.1" y="562.5" text-anchor="middle">50</text>
<text x="227.1" y="562.5" text-anchor="middle">100</text>
<text x="351.2" y="562.5" text-anchor="middle">150</text>
<text x="475.3" y="562.5" text-anchor="middle">200</text>
<text x="599.3" y="562.5" text-anchor="middle">250</text>
<text x="659.4" y="27.1">1.0</text>
<text x="660.3" y="572.0">0.0</text>
</g>
<g font-family="'DejaVu Sans Condensed', 'DejaVu Sans', sans-serif" font-size="26" fill="#000">
<text transform="translate(19.9 353.2) rotate(-90)" textLength="150.5" lengthAdjust="spacingAndGlyphs">Energy (GHz)</text>
<text x="196.6" y="598" textLength="272" lengthAdjust="spacingAndGlyphs">Radial separation R (a<tspan font-size="17.5" dy="5.5">0</tspan><tspan dy="-5.5">)</tspan></text>
<text transform="translate(693.2 424) rotate(-90)" textLength="206.5" lengthAdjust="spacingAndGlyphs">Singlet admixture</text>
<text transform="translate(693 189) rotate(-90)" font-family="'DejaVu Sans', sans-serif" font-style="italic" font-size="26">σ<tspan font-size="17" dy="5" font-style="normal">0</tspan></text>
</g>
<rect x="630.8" y="17.5" width="18.8" height="545.3" fill="url(#cb)" stroke="#000" stroke-width="1.6"/>
<path d="M649.6 17.5h5.4M649.6 562.8h5.4" stroke="#000" stroke-width="1.6"/>
</svg>
</body></html>
